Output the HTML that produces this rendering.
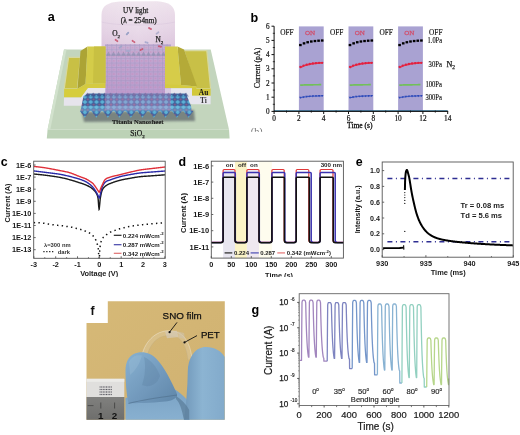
<!DOCTYPE html>
<html><head><meta charset="utf-8"><title>Figure</title>
<style>html,body{margin:0;padding:0;background:#fff;width:520px;height:435px;overflow:hidden}svg{display:block;filter:blur(0.35px)}</style>
</head><body>
<svg width="520" height="435" viewBox="0 0 520 435">
<rect x="0" y="0" width="520" height="435" fill="#fff"/>
<defs>
<linearGradient id="cylG" x1="0" y1="0" x2="0" y2="1">
 <stop offset="0" stop-color="#eee2ec"/><stop offset="0.5" stop-color="#e4d2e4"/><stop offset="1" stop-color="#d6bcd8"/>
</linearGradient>
<linearGradient id="cylH" x1="0" y1="0" x2="1" y2="0">
 <stop offset="0" stop-color="#ffffff" stop-opacity="0.0"/><stop offset="0.5" stop-color="#ffffff" stop-opacity="0.18"/><stop offset="1" stop-color="#ffffff" stop-opacity="0.0"/>
</linearGradient>
<linearGradient id="beamG" x1="0" y1="0" x2="0" y2="1">
 <stop offset="0" stop-color="#c8b4d6"/><stop offset="0.35" stop-color="#c0a6d2"/><stop offset="1" stop-color="#b89ccc"/>
</linearGradient>
<pattern id="latt" x="1" y="1" width="4.6" height="4.4" patternUnits="userSpaceOnUse">
 <rect width="4.6" height="4.4" fill="none"/>
 <path d="M0,0.5 L4.6,0.5 M0.5,0 L0.5,4.4" stroke="#9c90bc" stroke-width="0.7" opacity="0.8"/>
 <path d="M0,2.7 L4.6,2.7" stroke="#cc8cc0" stroke-width="0.5" opacity="0.6"/>
 <circle cx="2.6" cy="2.6" r="0.6" fill="#c86a9c" opacity="0.6"/>
</pattern>
<pattern id="nano" x="0.8" y="0.6" width="5.8" height="5.2" patternUnits="userSpaceOnUse">
 <rect width="5.8" height="5.2" fill="#44629c"/>
 <path d="M0.5,2.6 L2.9,0.4 L5.3,2.6 L2.9,4.8 Z" fill="#5ab2d6"/>
 <circle cx="0" cy="0" r="0.75" fill="#d0506e"/>
 <circle cx="5.8" cy="0" r="0.75" fill="#d0506e"/>
 <circle cx="0" cy="5.2" r="0.75" fill="#d0506e"/>
 <circle cx="5.8" cy="5.2" r="0.75" fill="#d0506e"/>
</pattern>
<filter id="blur1" x="-10%" y="-10%" width="120%" height="120%"><feGaussianBlur stdDeviation="0.45"/></filter>
<filter id="blur2" x="-20%" y="-50%" width="140%" height="200%"><feGaussianBlur stdDeviation="1.2"/></filter>
</defs>
<text x="47.80" y="21.20" font-family="'Liberation Sans', Arial, sans-serif" font-size="12.6" font-weight="bold" text-anchor="start" fill="#000" >a</text>
<g filter="url(#blur1)">
<polygon points="64.0,49.4 210.7,49.4 229.0,129.6 47.6,129.6" fill="#c3d5bd" />
<polygon points="47.6,129.6 229.0,129.6 229.6,138.6 46.8,138.6" fill="#bcd2b6" />
<polygon points="64.0,49.4 66.5,49.4 50.3,129.6 47.6,129.6" fill="#d2e2cd" />
<path d="M101.5,60 L101.5,15 C101.5,6 108,2.2 120,1.6 L157,1.2 C169,1.8 175,6 175,15 L175,60 Z" fill="url(#cylG)"/>
<path d="M101.5,60 L101.5,15 C101.5,6 108,2.2 120,1.6 L157,1.2 C169,1.8 175,6 175,15 L175,60 Z" fill="url(#cylH)"/>
<path d="M101.8,22 C115,26 160,26 174.8,22" fill="none" stroke="#d8c4dc" stroke-width="0.8" opacity="0.6"/>
<rect x="105" y="44" width="66" height="56" fill="url(#beamG)"/>
<rect x="105" y="44" width="66" height="56" fill="url(#latt)" opacity="0.75"/>
<polygon points="106.0,56.0 108.5,51.5 111.0,56.0" fill="#8088a8" opacity="0.55"/>
<polygon points="111.0,56.0 113.5,51.5 116.0,56.0" fill="#8088a8" opacity="0.55"/>
<polygon points="116.0,56.0 118.5,51.5 121.0,56.0" fill="#8088a8" opacity="0.55"/>
<polygon points="121.0,56.0 123.5,51.5 126.0,56.0" fill="#8088a8" opacity="0.55"/>
<polygon points="126.0,56.0 128.5,51.5 131.0,56.0" fill="#8088a8" opacity="0.55"/>
<polygon points="131.0,56.0 133.5,51.5 136.0,56.0" fill="#8088a8" opacity="0.55"/>
<polygon points="136.0,56.0 138.5,51.5 141.0,56.0" fill="#8088a8" opacity="0.55"/>
<polygon points="141.0,56.0 143.5,51.5 146.0,56.0" fill="#8088a8" opacity="0.55"/>
<polygon points="146.0,56.0 148.5,51.5 151.0,56.0" fill="#8088a8" opacity="0.55"/>
<polygon points="151.0,56.0 153.5,51.5 156.0,56.0" fill="#8088a8" opacity="0.55"/>
<polygon points="156.0,56.0 158.5,51.5 161.0,56.0" fill="#8088a8" opacity="0.55"/>
<polygon points="161.0,56.0 163.5,51.5 166.0,56.0" fill="#8088a8" opacity="0.55"/>
<polygon points="166.0,56.0 168.5,51.5 171.0,56.0" fill="#8088a8" opacity="0.55"/>
<polygon points="68.6,57.4 80.5,57.4 77.5,88.8 64.2,88.8" fill="#c8c044" stroke="#d6d8a0" stroke-width="1.2"/>
<polygon points="80.5,51.0 87.5,46.6 85.5,84.0 77.5,88.8" fill="#aca434" />
<polygon points="87.5,46.6 105.5,46.6 105.5,83.0 85.5,84.0" fill="#d4cc48" />
<polygon points="94.0,46.6 105.5,46.6 105.5,83.0 93.0,83.6" fill="#c8c042" />
<polygon points="77.5,88.8 85.5,84.0 105.5,83.0 105.5,88.0 88.0,88.0 81.0,97.6" fill="#d4ca40" />
<polygon points="64.2,88.8 77.5,88.8 88.0,88.0 81.0,97.6 64.0,97.6" fill="#d6cd3c" />
<polygon points="64.0,97.6 81.0,97.6 88.0,88.0 105.5,88.0 105.5,95.0 90.0,95.0 90.0,105.8 63.8,105.8" fill="#e6e4ec" />
<polygon points="184.0,50.6 206.8,50.6 210.6,88.6 196.0,88.6" fill="#c8c046" stroke="#d6d8a0" stroke-width="1.2"/>
<polygon points="177.5,46.4 184.0,49.6 197.0,86.5 181.0,85.0" fill="#b4aa38" />
<polygon points="165.0,46.4 177.5,46.4 181.0,85.0 165.0,85.0" fill="#d6cc4a" />
<polygon points="165.0,84.2 181.0,85.0 197.0,86.5 196.0,89.6 192.0,89.9 192.0,88.3 165.0,88.3" fill="#d4ca40" />
<polygon points="192.0,88.6 210.6,88.6 210.6,95.8 192.0,95.8" fill="#d2c83a" />
<polygon points="165.0,88.3 192.0,88.3 192.0,95.8 210.6,95.8 210.6,104.3 192.0,104.3 170.0,96.0 165.0,96.0" fill="#e6e5ee" />
</g>
<path d="M82,112 L194,110 L195,121 L84,122 Z" fill="#4a5058" opacity="0.6" filter="url(#blur2)"/>
<g filter="url(#blur1)">
<polygon points="80.5,111.0 83.5,96.0 88.0,93.6 186.0,93.4 191.0,106.0 191.5,110.5 193.4,111.0 188.4,117.8 183.4,111.0 181.9,111.0 176.9,117.8 171.9,111.0 170.4,111.0 165.4,117.8 160.4,111.0 158.8,111.0 153.8,117.8 148.8,111.0 147.3,111.0 142.3,117.8 137.3,111.0 135.8,111.0 130.8,117.8 125.8,111.0 124.3,111.0 119.3,117.8 114.3,111.0 112.8,111.0 107.8,117.8 102.8,111.0 101.3,111.0 96.3,117.8 91.3,111.0 89.8,111.0 84.8,117.8 79.8,111.0 80.5,111.0" fill="url(#nano)" />
<polygon points="84.5,96.5 87.4,92.6 90.3,96.5" fill="#3a548e" opacity="0.6"/>
<polygon points="90.3,96.5 93.2,92.6 96.1,96.5" fill="#3a548e" opacity="0.6"/>
<polygon points="96.1,96.5 99.0,92.6 101.9,96.5" fill="#3a548e" opacity="0.6"/>
<polygon points="101.9,96.5 104.8,92.6 107.7,96.5" fill="#3a548e" opacity="0.6"/>
<polygon points="107.7,96.5 110.6,92.6 113.5,96.5" fill="#3a548e" opacity="0.6"/>
<polygon points="113.5,96.5 116.4,92.6 119.3,96.5" fill="#3a548e" opacity="0.6"/>
<polygon points="119.3,96.5 122.2,92.6 125.1,96.5" fill="#3a548e" opacity="0.6"/>
<polygon points="125.1,96.5 128.0,92.6 130.9,96.5" fill="#3a548e" opacity="0.6"/>
<polygon points="130.9,96.5 133.8,92.6 136.7,96.5" fill="#3a548e" opacity="0.6"/>
<polygon points="136.7,96.5 139.6,92.6 142.5,96.5" fill="#3a548e" opacity="0.6"/>
<polygon points="142.5,96.5 145.4,92.6 148.3,96.5" fill="#3a548e" opacity="0.6"/>
<polygon points="148.3,96.5 151.2,92.6 154.1,96.5" fill="#3a548e" opacity="0.6"/>
<polygon points="154.1,96.5 157.0,92.6 159.9,96.5" fill="#3a548e" opacity="0.6"/>
<polygon points="159.9,96.5 162.8,92.6 165.7,96.5" fill="#3a548e" opacity="0.6"/>
<polygon points="165.7,96.5 168.6,92.6 171.5,96.5" fill="#3a548e" opacity="0.6"/>
<polygon points="171.5,96.5 174.4,92.6 177.3,96.5" fill="#3a548e" opacity="0.6"/>
<polygon points="177.3,96.5 180.2,92.6 183.1,96.5" fill="#3a548e" opacity="0.6"/>
<polygon points="183.1,96.5 186.0,92.6 188.9,96.5" fill="#3a548e" opacity="0.6"/>
<path d="M81,106 L191.5,106 L191.5,111.5 L81,111.5 Z" fill="#8fd0ec" opacity="0.35"/>
<path d="M105,88 L171,88 L171,110 L105,110 Z" fill="#c09ad0" opacity="0.38"/>
</g>
<g transform="rotate(40 116.5 40.5)" opacity="0.85"><ellipse cx="115.60" cy="40.5" rx="1.2" ry="1.0" fill="#c8506a"/><ellipse cx="117.40" cy="40.5" rx="1.2" ry="1.0" fill="#c8506a"/></g>
<g transform="rotate(-50 127.5 33.5)" opacity="0.85"><ellipse cx="126.60" cy="33.5" rx="1.2" ry="1.0" fill="#8c98c0"/><ellipse cx="128.40" cy="33.5" rx="1.2" ry="1.0" fill="#8c98c0"/></g>
<g transform="rotate(35 133.5 41.5)" opacity="0.85"><ellipse cx="132.60" cy="41.5" rx="1.2" ry="1.0" fill="#c8506a"/><ellipse cx="134.40" cy="41.5" rx="1.2" ry="1.0" fill="#c8506a"/></g>
<g transform="rotate(30 150.0 28.5)" opacity="0.85"><ellipse cx="149.10" cy="28.5" rx="1.2" ry="1.0" fill="#c8506a"/><ellipse cx="150.90" cy="28.5" rx="1.2" ry="1.0" fill="#c8506a"/></g>
<g transform="rotate(20 146.5 42.5)" opacity="0.85"><ellipse cx="145.60" cy="42.5" rx="1.2" ry="1.0" fill="#a0a4cc"/><ellipse cx="147.40" cy="42.5" rx="1.2" ry="1.0" fill="#a0a4cc"/></g>
<g transform="rotate(-40 157.5 33.0)" opacity="0.85"><ellipse cx="156.60" cy="33.0" rx="1.2" ry="1.0" fill="#a8a8c8"/><ellipse cx="158.40" cy="33.0" rx="1.2" ry="1.0" fill="#a8a8c8"/></g>
<g transform="rotate(-30 141.5 49.5)" opacity="0.85"><ellipse cx="140.60" cy="49.5" rx="1.2" ry="1.0" fill="#c8506a"/><ellipse cx="142.40" cy="49.5" rx="1.2" ry="1.0" fill="#c8506a"/></g>
<g transform="rotate(-40 120.5 47.0)" opacity="0.85"><ellipse cx="119.60" cy="47.0" rx="1.2" ry="1.0" fill="#9ca4c8"/><ellipse cx="121.40" cy="47.0" rx="1.2" ry="1.0" fill="#9ca4c8"/></g>
<g transform="rotate(10 160.0 46.5)" opacity="0.85"><ellipse cx="159.10" cy="46.5" rx="1.2" ry="1.0" fill="#c8506a"/><ellipse cx="160.90" cy="46.5" rx="1.2" ry="1.0" fill="#c8506a"/></g>
<g transform="rotate(0 128 51)" opacity="0.85"><ellipse cx="127.10" cy="51" rx="1.2" ry="1.0" fill="#a0a8cc"/><ellipse cx="128.90" cy="51" rx="1.2" ry="1.0" fill="#a0a8cc"/></g>
<text x="135.70" y="13.10" font-family="'Liberation Serif', 'Times New Roman', serif" font-size="7.2" font-weight="normal" text-anchor="middle" fill="#222" stroke="#222" stroke-width="0.25">UV light</text>
<text x="138.70" y="23.20" font-family="'Liberation Serif', 'Times New Roman', serif" font-size="7.2" font-weight="normal" text-anchor="middle" fill="#222" stroke="#222" stroke-width="0.25">(&#955; = 254nm)</text>
<text x="112.20" y="36.20" font-family="'Liberation Serif', 'Times New Roman', serif" font-size="7.4" font-weight="normal" text-anchor="start" fill="#222" stroke="#222" stroke-width="0.25">O<tspan font-size="5" dy="1.5">2</tspan></text>
<text x="155.40" y="42.40" font-family="'Liberation Serif', 'Times New Roman', serif" font-size="7.4" font-weight="normal" text-anchor="start" fill="#222" stroke="#222" stroke-width="0.25">N<tspan font-size="5" dy="1.5">2</tspan></text>
<text x="137.70" y="124.30" font-family="'Liberation Serif', 'Times New Roman', serif" font-size="6.6" font-weight="bold" text-anchor="middle" fill="#1a1a1a" stroke="#1a1a1a" stroke-width="0.15">Titania Nanosheet</text>
<text x="137.50" y="136.20" font-family="'Liberation Serif', 'Times New Roman', serif" font-size="7.6" font-weight="normal" text-anchor="middle" fill="#1a1a1a" stroke="#1a1a1a" stroke-width="0.25">SiO<tspan font-size="5" dy="1.4">2</tspan></text>
<text x="198.80" y="95.00" font-family="'Liberation Serif', 'Times New Roman', serif" font-size="7.4" font-weight="bold" text-anchor="start" fill="#111" >Au</text>
<text x="200.00" y="103.40" font-family="'Liberation Serif', 'Times New Roman', serif" font-size="7.4" font-weight="bold" text-anchor="start" fill="#3a3a3a" >Ti</text>
<text x="250.60" y="21.60" font-family="'Liberation Sans', Arial, sans-serif" font-size="12.6" font-weight="bold" text-anchor="start" fill="#000" >b</text>
<rect x="298.90" y="26.40" width="24.80" height="85.00" fill="#a9a2d2" stroke="none" stroke-width="1" />
<rect x="348.50" y="26.40" width="24.80" height="85.00" fill="#a9a2d2" stroke="none" stroke-width="1" />
<rect x="398.10" y="26.40" width="24.80" height="85.00" fill="#a9a2d2" stroke="none" stroke-width="1" />
<text x="287.00" y="34.90" font-family="'Liberation Serif', 'Times New Roman', serif" font-size="7.3" font-weight="normal" text-anchor="middle" fill="#111" stroke="#111" stroke-width="0.15">OFF</text>
<text x="336.60" y="34.90" font-family="'Liberation Serif', 'Times New Roman', serif" font-size="7.3" font-weight="normal" text-anchor="middle" fill="#111" stroke="#111" stroke-width="0.15">OFF</text>
<text x="386.20" y="34.90" font-family="'Liberation Serif', 'Times New Roman', serif" font-size="7.3" font-weight="normal" text-anchor="middle" fill="#111" stroke="#111" stroke-width="0.15">OFF</text>
<text x="435.80" y="34.90" font-family="'Liberation Serif', 'Times New Roman', serif" font-size="7.3" font-weight="normal" text-anchor="middle" fill="#111" stroke="#111" stroke-width="0.15">OFF</text>
<text x="310.10" y="34.60" font-family="'Liberation Serif', 'Times New Roman', serif" font-size="7.0" font-weight="normal" text-anchor="middle" fill="#d0506e" stroke="#d0506e" stroke-width="0.3">ON</text>
<text x="359.70" y="34.60" font-family="'Liberation Serif', 'Times New Roman', serif" font-size="7.0" font-weight="normal" text-anchor="middle" fill="#d0506e" stroke="#d0506e" stroke-width="0.3">ON</text>
<text x="409.30" y="34.60" font-family="'Liberation Serif', 'Times New Roman', serif" font-size="7.0" font-weight="normal" text-anchor="middle" fill="#d0506e" stroke="#d0506e" stroke-width="0.3">ON</text>
<rect x="299.09" y="43.89" width="2.60" height="2.30" fill="#000" stroke="none" stroke-width="1" />
<rect x="302.73" y="42.20" width="2.60" height="2.30" fill="#000" stroke="none" stroke-width="1" />
<rect x="306.36" y="41.09" width="2.60" height="2.30" fill="#000" stroke="none" stroke-width="1" />
<rect x="310.00" y="40.36" width="2.60" height="2.30" fill="#000" stroke="none" stroke-width="1" />
<rect x="313.64" y="39.88" width="2.60" height="2.30" fill="#000" stroke="none" stroke-width="1" />
<rect x="317.27" y="39.56" width="2.60" height="2.30" fill="#000" stroke="none" stroke-width="1" />
<rect x="320.91" y="39.36" width="2.60" height="2.30" fill="#000" stroke="none" stroke-width="1" />
<rect x="348.69" y="43.89" width="2.60" height="2.30" fill="#000" stroke="none" stroke-width="1" />
<rect x="352.33" y="42.20" width="2.60" height="2.30" fill="#000" stroke="none" stroke-width="1" />
<rect x="355.96" y="41.09" width="2.60" height="2.30" fill="#000" stroke="none" stroke-width="1" />
<rect x="359.60" y="40.36" width="2.60" height="2.30" fill="#000" stroke="none" stroke-width="1" />
<rect x="363.24" y="39.88" width="2.60" height="2.30" fill="#000" stroke="none" stroke-width="1" />
<rect x="366.87" y="39.56" width="2.60" height="2.30" fill="#000" stroke="none" stroke-width="1" />
<rect x="370.51" y="39.36" width="2.60" height="2.30" fill="#000" stroke="none" stroke-width="1" />
<rect x="398.29" y="43.89" width="2.60" height="2.30" fill="#000" stroke="none" stroke-width="1" />
<rect x="401.93" y="42.20" width="2.60" height="2.30" fill="#000" stroke="none" stroke-width="1" />
<rect x="405.56" y="41.09" width="2.60" height="2.30" fill="#000" stroke="none" stroke-width="1" />
<rect x="409.20" y="40.36" width="2.60" height="2.30" fill="#000" stroke="none" stroke-width="1" />
<rect x="412.84" y="39.88" width="2.60" height="2.30" fill="#000" stroke="none" stroke-width="1" />
<rect x="416.47" y="39.56" width="2.60" height="2.30" fill="#000" stroke="none" stroke-width="1" />
<rect x="420.11" y="39.36" width="2.60" height="2.30" fill="#000" stroke="none" stroke-width="1" />
<path d="M300.14,67.66 L301.26,67.03 L302.37,66.48 L303.49,65.99 L304.60,65.56 L305.72,65.19 L306.84,64.85 L307.95,64.56 L309.07,64.31 L310.18,64.08 L311.30,63.88 L312.42,63.71 L313.53,63.55 L314.65,63.42 L315.76,63.30 L316.88,63.20 L318.00,63.10 L319.11,63.02 L320.23,62.95 L321.34,62.89 L322.46,62.84" stroke="#e8304a" stroke-width="1.7" fill="none" />
<path d="M349.74,67.66 L350.86,67.03 L351.97,66.48 L353.09,65.99 L354.20,65.56 L355.32,65.19 L356.44,64.85 L357.55,64.56 L358.67,64.31 L359.78,64.08 L360.90,63.88 L362.02,63.71 L363.13,63.55 L364.25,63.42 L365.36,63.30 L366.48,63.20 L367.60,63.10 L368.71,63.02 L369.83,62.95 L370.94,62.89 L372.06,62.84" stroke="#e8304a" stroke-width="1.7" fill="none" />
<path d="M399.34,67.66 L400.46,67.03 L401.57,66.48 L402.69,65.99 L403.80,65.56 L404.92,65.19 L406.04,64.85 L407.15,64.56 L408.27,64.31 L409.38,64.08 L410.50,63.88 L411.62,63.71 L412.73,63.55 L413.85,63.42 L414.96,63.30 L416.08,63.20 L417.20,63.10 L418.31,63.02 L419.43,62.95 L420.54,62.89 L421.66,62.84" stroke="#e8304a" stroke-width="1.7" fill="none" />
<circle cx="300.39" cy="66.97" r="1.15" fill="#e02040"/>
<circle cx="303.51" cy="65.60" r="1.15" fill="#e02040"/>
<circle cx="306.62" cy="64.65" r="1.15" fill="#e02040"/>
<circle cx="309.74" cy="63.98" r="1.15" fill="#e02040"/>
<circle cx="312.86" cy="63.51" r="1.15" fill="#e02040"/>
<circle cx="315.98" cy="63.19" r="1.15" fill="#e02040"/>
<circle cx="319.09" cy="62.96" r="1.15" fill="#e02040"/>
<circle cx="322.21" cy="62.80" r="1.15" fill="#e02040"/>
<circle cx="349.99" cy="66.97" r="1.15" fill="#e02040"/>
<circle cx="353.11" cy="65.60" r="1.15" fill="#e02040"/>
<circle cx="356.22" cy="64.65" r="1.15" fill="#e02040"/>
<circle cx="359.34" cy="63.98" r="1.15" fill="#e02040"/>
<circle cx="362.46" cy="63.51" r="1.15" fill="#e02040"/>
<circle cx="365.58" cy="63.19" r="1.15" fill="#e02040"/>
<circle cx="368.69" cy="62.96" r="1.15" fill="#e02040"/>
<circle cx="371.81" cy="62.80" r="1.15" fill="#e02040"/>
<circle cx="399.59" cy="66.97" r="1.15" fill="#e02040"/>
<circle cx="402.71" cy="65.60" r="1.15" fill="#e02040"/>
<circle cx="405.82" cy="64.65" r="1.15" fill="#e02040"/>
<circle cx="408.94" cy="63.98" r="1.15" fill="#e02040"/>
<circle cx="412.06" cy="63.51" r="1.15" fill="#e02040"/>
<circle cx="415.18" cy="63.19" r="1.15" fill="#e02040"/>
<circle cx="418.29" cy="62.96" r="1.15" fill="#e02040"/>
<circle cx="421.41" cy="62.80" r="1.15" fill="#e02040"/>
<path d="M300.14,85.13 L301.19,85.08 L302.25,85.03 L303.30,84.99 L304.36,84.95 L305.41,84.92 L306.46,84.89 L307.52,84.87 L308.57,84.84 L309.63,84.82 L310.68,84.81 L311.73,84.79 L312.79,84.78 L313.84,84.76 L314.90,84.75 L315.95,84.74 L317.00,84.73 L318.06,84.73 L319.11,84.72 L320.17,84.71 L321.22,84.71" stroke="#72c05a" stroke-width="1.7" fill="none" />
<path d="M349.74,85.13 L350.79,85.08 L351.85,85.03 L352.90,84.99 L353.96,84.95 L355.01,84.92 L356.06,84.89 L357.12,84.87 L358.17,84.84 L359.23,84.82 L360.28,84.81 L361.33,84.79 L362.39,84.78 L363.44,84.76 L364.50,84.75 L365.55,84.74 L366.60,84.73 L367.66,84.73 L368.71,84.72 L369.77,84.71 L370.82,84.71" stroke="#72c05a" stroke-width="1.7" fill="none" />
<path d="M399.34,85.13 L400.39,85.08 L401.45,85.03 L402.50,84.99 L403.56,84.95 L404.61,84.92 L405.66,84.89 L406.72,84.87 L407.77,84.84 L408.83,84.82 L409.88,84.81 L410.93,84.79 L411.99,84.78 L413.04,84.76 L414.10,84.75 L415.15,84.74 L416.20,84.73 L417.26,84.73 L418.31,84.72 L419.37,84.71 L420.42,84.71" stroke="#72c05a" stroke-width="1.7" fill="none" />
<path d="M300.14,97.91 L301.26,97.65 L302.37,97.42 L303.49,97.22 L304.60,97.04 L305.72,96.89 L306.84,96.75 L307.95,96.63 L309.07,96.53 L310.18,96.43 L311.30,96.35 L312.42,96.28 L313.53,96.22 L314.65,96.16 L315.76,96.11 L316.88,96.07 L318.00,96.03 L319.11,96.00 L320.23,95.97 L321.34,95.94 L322.46,95.92" stroke="#3050c0" stroke-width="1.0" fill="none" />
<path d="M349.74,97.91 L350.86,97.65 L351.97,97.42 L353.09,97.22 L354.20,97.04 L355.32,96.89 L356.44,96.75 L357.55,96.63 L358.67,96.53 L359.78,96.43 L360.90,96.35 L362.02,96.28 L363.13,96.22 L364.25,96.16 L365.36,96.11 L366.48,96.07 L367.60,96.03 L368.71,96.00 L369.83,95.97 L370.94,95.94 L372.06,95.92" stroke="#3050c0" stroke-width="1.0" fill="none" />
<path d="M399.34,97.91 L400.46,97.65 L401.57,97.42 L402.69,97.22 L403.80,97.04 L404.92,96.89 L406.04,96.75 L407.15,96.63 L408.27,96.53 L409.38,96.43 L410.50,96.35 L411.62,96.28 L412.73,96.22 L413.85,96.16 L414.96,96.11 L416.08,96.07 L417.20,96.03 L418.31,96.00 L419.43,95.97 L420.54,95.94 L421.66,95.92" stroke="#3050c0" stroke-width="1.0" fill="none" />
<polygon points="299.09,96.72 301.69,96.72 300.39,98.82" fill="#2c48b8"/>
<polygon points="302.21,96.16 304.81,96.16 303.51,98.26" fill="#2c48b8"/>
<polygon points="305.32,95.77 307.92,95.77 306.62,97.87" fill="#2c48b8"/>
<polygon points="308.44,95.49 311.04,95.49 309.74,97.59" fill="#2c48b8"/>
<polygon points="311.56,95.30 314.16,95.30 312.86,97.40" fill="#2c48b8"/>
<polygon points="314.68,95.17 317.28,95.17 315.98,97.27" fill="#2c48b8"/>
<polygon points="317.79,95.07 320.39,95.07 319.09,97.17" fill="#2c48b8"/>
<polygon points="320.91,95.01 323.51,95.01 322.21,97.11" fill="#2c48b8"/>
<polygon points="348.69,96.72 351.29,96.72 349.99,98.82" fill="#2c48b8"/>
<polygon points="351.81,96.16 354.41,96.16 353.11,98.26" fill="#2c48b8"/>
<polygon points="354.92,95.77 357.52,95.77 356.22,97.87" fill="#2c48b8"/>
<polygon points="358.04,95.49 360.64,95.49 359.34,97.59" fill="#2c48b8"/>
<polygon points="361.16,95.30 363.76,95.30 362.46,97.40" fill="#2c48b8"/>
<polygon points="364.28,95.17 366.88,95.17 365.58,97.27" fill="#2c48b8"/>
<polygon points="367.39,95.07 369.99,95.07 368.69,97.17" fill="#2c48b8"/>
<polygon points="370.51,95.01 373.11,95.01 371.81,97.11" fill="#2c48b8"/>
<polygon points="398.29,96.72 400.89,96.72 399.59,98.82" fill="#2c48b8"/>
<polygon points="401.41,96.16 404.01,96.16 402.71,98.26" fill="#2c48b8"/>
<polygon points="404.52,95.77 407.12,95.77 405.82,97.87" fill="#2c48b8"/>
<polygon points="407.64,95.49 410.24,95.49 408.94,97.59" fill="#2c48b8"/>
<polygon points="410.76,95.30 413.36,95.30 412.06,97.40" fill="#2c48b8"/>
<polygon points="413.88,95.17 416.48,95.17 415.18,97.27" fill="#2c48b8"/>
<polygon points="416.99,95.07 419.59,95.07 418.29,97.17" fill="#2c48b8"/>
<polygon points="420.11,95.01 422.71,95.01 421.41,97.11" fill="#2c48b8"/>
<path d="M274.10,110.80 L447.70,110.80" stroke="#2a6a8a" stroke-width="1.2" fill="none" />
<line x1="274.10" y1="26.20" x2="274.10" y2="111.90" stroke="#111" stroke-width="1" />
<line x1="273.60" y1="111.40" x2="448.20" y2="111.40" stroke="#111" stroke-width="1" />
<line x1="271.50" y1="111.40" x2="274.10" y2="111.40" stroke="#111" stroke-width="1" />
<line x1="272.80" y1="104.30" x2="274.90" y2="104.30" stroke="#111" stroke-width="0.8" />
<text x="269.50" y="113.90" font-family="'Liberation Serif', 'Times New Roman', serif" font-size="7.2" font-weight="normal" text-anchor="end" fill="#111" stroke="#111" stroke-width="0.2">0</text>
<line x1="271.50" y1="97.20" x2="274.10" y2="97.20" stroke="#111" stroke-width="1" />
<line x1="272.80" y1="90.10" x2="274.90" y2="90.10" stroke="#111" stroke-width="0.8" />
<text x="269.50" y="99.70" font-family="'Liberation Serif', 'Times New Roman', serif" font-size="7.2" font-weight="normal" text-anchor="end" fill="#111" stroke="#111" stroke-width="0.2">1</text>
<line x1="271.50" y1="83.00" x2="274.10" y2="83.00" stroke="#111" stroke-width="1" />
<line x1="272.80" y1="75.90" x2="274.90" y2="75.90" stroke="#111" stroke-width="0.8" />
<text x="269.50" y="85.50" font-family="'Liberation Serif', 'Times New Roman', serif" font-size="7.2" font-weight="normal" text-anchor="end" fill="#111" stroke="#111" stroke-width="0.2">2</text>
<line x1="271.50" y1="68.80" x2="274.10" y2="68.80" stroke="#111" stroke-width="1" />
<line x1="272.80" y1="61.70" x2="274.90" y2="61.70" stroke="#111" stroke-width="0.8" />
<text x="269.50" y="71.30" font-family="'Liberation Serif', 'Times New Roman', serif" font-size="7.2" font-weight="normal" text-anchor="end" fill="#111" stroke="#111" stroke-width="0.2">3</text>
<line x1="271.50" y1="54.60" x2="274.10" y2="54.60" stroke="#111" stroke-width="1" />
<line x1="272.80" y1="47.50" x2="274.90" y2="47.50" stroke="#111" stroke-width="0.8" />
<text x="269.50" y="57.10" font-family="'Liberation Serif', 'Times New Roman', serif" font-size="7.2" font-weight="normal" text-anchor="end" fill="#111" stroke="#111" stroke-width="0.2">4</text>
<line x1="271.50" y1="40.40" x2="274.10" y2="40.40" stroke="#111" stroke-width="1" />
<line x1="272.80" y1="33.30" x2="274.90" y2="33.30" stroke="#111" stroke-width="0.8" />
<text x="269.50" y="42.90" font-family="'Liberation Serif', 'Times New Roman', serif" font-size="7.2" font-weight="normal" text-anchor="end" fill="#111" stroke="#111" stroke-width="0.2">5</text>
<line x1="271.50" y1="26.20" x2="274.10" y2="26.20" stroke="#111" stroke-width="1" />
<text x="269.50" y="28.70" font-family="'Liberation Serif', 'Times New Roman', serif" font-size="7.2" font-weight="normal" text-anchor="end" fill="#111" stroke="#111" stroke-width="0.2">6</text>
<line x1="274.10" y1="111.40" x2="274.10" y2="114.00" stroke="#111" stroke-width="1" />
<line x1="286.50" y1="110.60" x2="286.50" y2="112.70" stroke="#111" stroke-width="0.8" />
<text x="274.10" y="120.60" font-family="'Liberation Serif', 'Times New Roman', serif" font-size="7.3" font-weight="normal" text-anchor="middle" fill="#111" stroke="#111" stroke-width="0.2">0</text>
<line x1="298.90" y1="111.40" x2="298.90" y2="114.00" stroke="#111" stroke-width="1" />
<line x1="311.30" y1="110.60" x2="311.30" y2="112.70" stroke="#111" stroke-width="0.8" />
<text x="298.90" y="120.60" font-family="'Liberation Serif', 'Times New Roman', serif" font-size="7.3" font-weight="normal" text-anchor="middle" fill="#111" stroke="#111" stroke-width="0.2">2</text>
<line x1="323.70" y1="111.40" x2="323.70" y2="114.00" stroke="#111" stroke-width="1" />
<line x1="336.10" y1="110.60" x2="336.10" y2="112.70" stroke="#111" stroke-width="0.8" />
<text x="323.70" y="120.60" font-family="'Liberation Serif', 'Times New Roman', serif" font-size="7.3" font-weight="normal" text-anchor="middle" fill="#111" stroke="#111" stroke-width="0.2">4</text>
<line x1="348.50" y1="111.40" x2="348.50" y2="114.00" stroke="#111" stroke-width="1" />
<line x1="360.90" y1="110.60" x2="360.90" y2="112.70" stroke="#111" stroke-width="0.8" />
<text x="348.50" y="120.60" font-family="'Liberation Serif', 'Times New Roman', serif" font-size="7.3" font-weight="normal" text-anchor="middle" fill="#111" stroke="#111" stroke-width="0.2">6</text>
<line x1="373.30" y1="111.40" x2="373.30" y2="114.00" stroke="#111" stroke-width="1" />
<line x1="385.70" y1="110.60" x2="385.70" y2="112.70" stroke="#111" stroke-width="0.8" />
<text x="373.30" y="120.60" font-family="'Liberation Serif', 'Times New Roman', serif" font-size="7.3" font-weight="normal" text-anchor="middle" fill="#111" stroke="#111" stroke-width="0.2">8</text>
<line x1="398.10" y1="111.40" x2="398.10" y2="114.00" stroke="#111" stroke-width="1" />
<line x1="410.50" y1="110.60" x2="410.50" y2="112.70" stroke="#111" stroke-width="0.8" />
<text x="398.10" y="120.60" font-family="'Liberation Serif', 'Times New Roman', serif" font-size="7.3" font-weight="normal" text-anchor="middle" fill="#111" stroke="#111" stroke-width="0.2">10</text>
<line x1="422.90" y1="111.40" x2="422.90" y2="114.00" stroke="#111" stroke-width="1" />
<line x1="435.30" y1="110.60" x2="435.30" y2="112.70" stroke="#111" stroke-width="0.8" />
<text x="422.90" y="120.60" font-family="'Liberation Serif', 'Times New Roman', serif" font-size="7.3" font-weight="normal" text-anchor="middle" fill="#111" stroke="#111" stroke-width="0.2">12</text>
<line x1="447.70" y1="111.40" x2="447.70" y2="114.00" stroke="#111" stroke-width="1" />
<text x="447.70" y="120.60" font-family="'Liberation Serif', 'Times New Roman', serif" font-size="7.3" font-weight="normal" text-anchor="middle" fill="#111" stroke="#111" stroke-width="0.2">14</text>
<text x="359.80" y="128.40" font-family="'Liberation Serif', 'Times New Roman', serif" font-size="7.5" font-weight="normal" text-anchor="middle" fill="#111" stroke="#111" stroke-width="0.3">Time (s)</text>
<text x="260.20" y="68.00" font-family="'Liberation Serif', 'Times New Roman', serif" font-size="7.8" font-weight="normal" text-anchor="middle" fill="#111" stroke="#111" stroke-width="0.2" transform="rotate(-90 260.2 68)">Current (pA)</text>
<text x="427.60" y="42.70" font-family="'Liberation Serif', 'Times New Roman', serif" font-size="7.7" font-weight="normal" text-anchor="start" fill="#111" stroke="#111" stroke-width="0.15" textLength="14.4" lengthAdjust="spacingAndGlyphs">1.0Pa</text>
<text x="428.60" y="67.20" font-family="'Liberation Serif', 'Times New Roman', serif" font-size="7.7" font-weight="normal" text-anchor="start" fill="#111" stroke="#111" stroke-width="0.15" textLength="13.4" lengthAdjust="spacingAndGlyphs">30Pa</text>
<text x="446.50" y="67.00" font-family="'Liberation Serif', 'Times New Roman', serif" font-size="8.0" font-weight="normal" text-anchor="start" fill="#111" stroke="#111" stroke-width="0.25">N<tspan font-size="5.4" dy="1.6">2</tspan></text>
<text x="425.40" y="86.80" font-family="'Liberation Serif', 'Times New Roman', serif" font-size="7.7" font-weight="normal" text-anchor="start" fill="#111" stroke="#111" stroke-width="0.15" textLength="16.6" lengthAdjust="spacingAndGlyphs">100Pa</text>
<text x="425.40" y="99.60" font-family="'Liberation Serif', 'Times New Roman', serif" font-size="7.7" font-weight="normal" text-anchor="start" fill="#111" stroke="#111" stroke-width="0.15" textLength="16.6" lengthAdjust="spacingAndGlyphs">300Pa</text>
<clipPath id="clipbf"><rect x="248" y="127.5" width="20" height="4.3"/></clipPath>
<text x="250.80" y="135.40" font-family="'Liberation Serif', 'Times New Roman', serif" font-size="10" font-weight="normal" text-anchor="start" fill="#444" clip-path="url(#clipbf)" opacity="0.8">(b)</text>
<text x="0.80" y="166.40" font-family="'Liberation Sans', Arial, sans-serif" font-size="12.4" font-weight="bold" text-anchor="start" fill="#000" >c</text>
<g clip-path="url(#clipc)">
<path d="M33.70,174.00 L34.20,174.05 L34.70,174.10 L35.20,174.16 L35.70,174.21 L36.20,174.26 L36.70,174.31 L37.20,174.35 L37.70,174.40 L38.20,174.45 L38.70,174.50 L39.20,174.55 L39.70,174.60 L40.20,174.65 L40.70,174.71 L41.20,174.76 L41.70,174.81 L42.20,174.87 L42.70,174.92 L43.20,174.98 L43.70,175.04 L44.20,175.10 L44.70,175.16 L45.00,175.20 L45.20,175.23 L45.70,175.29 L46.20,175.36 L46.70,175.42 L47.20,175.48 L47.70,175.55 L48.20,175.61 L48.70,175.68 L49.20,175.75 L49.70,175.81 L50.20,175.88 L50.70,175.95 L51.20,176.02 L51.70,176.09 L52.20,176.16 L52.70,176.23 L53.20,176.30 L53.70,176.37 L54.20,176.44 L54.70,176.52 L55.20,176.59 L55.70,176.67 L56.20,176.75 L56.70,176.83 L57.20,176.91 L57.70,177.00 L58.20,177.08 L58.70,177.17 L59.20,177.26 L59.70,177.35 L60.00,177.40 L60.20,177.44 L60.70,177.53 L61.20,177.63 L61.70,177.73 L62.20,177.84 L62.70,177.95 L63.20,178.06 L63.70,178.18 L64.20,178.29 L64.70,178.41 L65.20,178.54 L65.70,178.66 L66.20,178.79 L66.70,178.92 L67.20,179.05 L67.70,179.18 L68.20,179.31 L68.70,179.45 L69.20,179.58 L69.70,179.72 L70.00,179.80 L70.20,179.86 L70.70,180.00 L71.20,180.14 L71.70,180.28 L72.20,180.43 L72.70,180.58 L73.20,180.73 L73.70,180.88 L74.20,181.04 L74.70,181.19 L75.20,181.35 L75.70,181.51 L76.20,181.67 L76.70,181.83 L77.20,181.99 L77.70,182.15 L78.20,182.31 L78.70,182.48 L79.20,182.64 L79.70,182.80 L80.00,182.90 L80.20,182.96 L80.70,183.13 L81.20,183.29 L81.70,183.45 L82.20,183.62 L82.70,183.78 L83.20,183.95 L83.70,184.13 L84.20,184.31 L84.70,184.49 L85.20,184.68 L85.70,184.88 L86.00,185.00 L86.20,185.08 L86.70,185.30 L87.20,185.52 L87.70,185.75 L88.20,186.00 L88.70,186.26 L89.20,186.53 L89.70,186.82 L90.00,187.00 L90.20,187.12 L90.70,187.45 L91.20,187.80 L91.70,188.18 L92.20,188.58 L92.70,189.02 L93.00,189.30 L93.20,189.49 L93.70,189.94 L94.20,190.41 L94.70,190.91 L95.20,191.50 L95.70,192.21 L96.00,192.70 L96.20,193.03 L96.70,193.86 L97.20,194.93 L97.70,196.58 L98.00,198.00 L98.20,199.69 L98.70,206.33 L99.10,209.30 L99.20,209.15 L99.70,204.46 L100.20,199.00 L100.70,196.02 L101.20,193.54 L101.70,191.59 L102.00,190.70 L102.20,190.20 L102.70,189.16 L103.20,188.35 L103.70,187.72 L104.20,187.21 L104.70,186.76 L105.00,186.50 L105.20,186.33 L105.70,185.92 L106.20,185.55 L106.70,185.22 L107.20,184.92 L107.70,184.65 L108.20,184.39 L108.70,184.16 L109.20,183.94 L109.70,183.72 L110.00,183.60 L110.20,183.52 L110.70,183.32 L111.20,183.12 L111.70,182.93 L112.20,182.74 L112.70,182.55 L113.20,182.38 L113.70,182.20 L114.20,182.03 L114.70,181.86 L115.20,181.70 L115.70,181.54 L116.20,181.38 L116.70,181.23 L117.20,181.08 L117.70,180.94 L118.20,180.79 L118.70,180.65 L119.20,180.52 L119.70,180.38 L120.00,180.30 L120.20,180.25 L120.70,180.12 L121.20,180.00 L121.70,179.88 L122.20,179.77 L122.70,179.66 L123.20,179.55 L123.70,179.45 L124.20,179.35 L124.70,179.25 L125.20,179.16 L125.70,179.06 L126.20,178.97 L126.70,178.88 L127.20,178.79 L127.70,178.71 L128.20,178.62 L128.70,178.53 L129.20,178.44 L129.70,178.35 L130.00,178.30 L130.20,178.26 L130.70,178.17 L131.20,178.08 L131.70,177.99 L132.20,177.90 L132.70,177.81 L133.20,177.73 L133.70,177.64 L134.20,177.55 L134.70,177.47 L135.20,177.38 L135.70,177.30 L136.20,177.22 L136.70,177.14 L137.20,177.07 L137.70,177.00 L138.20,176.93 L138.70,176.86 L139.20,176.80 L139.70,176.73 L140.00,176.70 L140.20,176.68 L140.70,176.62 L141.20,176.57 L141.70,176.52 L142.20,176.48 L142.70,176.44 L143.20,176.39 L143.70,176.35 L144.20,176.32 L144.70,176.28 L145.20,176.25 L145.70,176.21 L146.20,176.18 L146.70,176.15 L147.20,176.12 L147.70,176.09 L148.20,176.05 L148.70,176.02 L149.20,175.99 L149.70,175.96 L150.20,175.93 L150.70,175.89 L151.20,175.86 L151.70,175.82 L152.00,175.80 L152.20,175.78 L152.70,175.75 L153.20,175.71 L153.70,175.67 L154.20,175.63 L154.70,175.60 L155.20,175.56 L155.70,175.52 L156.20,175.48 L156.70,175.44 L157.20,175.41 L157.70,175.37 L158.20,175.33 L158.70,175.29 L159.20,175.26 L159.70,175.22 L160.20,175.18 L160.70,175.14 L161.20,175.10 L161.70,175.07 L162.20,175.03 L162.70,174.99 L163.20,174.95 L163.70,174.91 L164.20,174.88 L164.70,174.84 L165.20,174.80" stroke="#1a1a1a" stroke-width="1.4" fill="none" />
<path d="M33.70,170.90 L34.20,170.96 L34.70,171.02 L35.20,171.08 L35.70,171.15 L36.20,171.21 L36.70,171.27 L37.20,171.33 L37.70,171.39 L38.20,171.45 L38.70,171.51 L39.20,171.57 L39.70,171.64 L40.20,171.70 L40.70,171.76 L41.20,171.82 L41.70,171.88 L42.20,171.94 L42.70,172.01 L43.20,172.07 L43.70,172.13 L44.20,172.20 L44.70,172.26 L45.00,172.30 L45.20,172.33 L45.70,172.39 L46.20,172.45 L46.70,172.52 L47.20,172.58 L47.70,172.64 L48.20,172.70 L48.70,172.76 L49.20,172.82 L49.70,172.88 L50.20,172.94 L50.70,173.00 L51.20,173.07 L51.70,173.13 L52.20,173.19 L52.70,173.25 L53.20,173.32 L53.70,173.38 L54.20,173.45 L54.70,173.51 L55.20,173.58 L55.70,173.65 L56.20,173.72 L56.70,173.79 L57.20,173.86 L57.70,173.93 L58.20,174.01 L58.70,174.09 L59.20,174.17 L59.70,174.25 L60.00,174.30 L60.20,174.33 L60.70,174.42 L61.20,174.51 L61.70,174.61 L62.20,174.70 L62.70,174.80 L63.20,174.91 L63.70,175.01 L64.20,175.12 L64.70,175.23 L65.20,175.34 L65.70,175.46 L66.20,175.57 L66.70,175.69 L67.20,175.81 L67.70,175.93 L68.20,176.05 L68.70,176.18 L69.20,176.30 L69.70,176.43 L70.00,176.50 L70.20,176.55 L70.70,176.68 L71.20,176.80 L71.70,176.93 L72.20,177.06 L72.70,177.19 L73.20,177.32 L73.70,177.45 L74.20,177.58 L74.70,177.72 L75.20,177.85 L75.70,177.99 L76.20,178.13 L76.70,178.28 L77.20,178.42 L77.70,178.57 L78.20,178.73 L78.70,178.88 L79.20,179.04 L79.70,179.20 L80.00,179.30 L80.20,179.37 L80.70,179.54 L81.20,179.71 L81.70,179.90 L82.20,180.09 L82.70,180.29 L83.20,180.49 L83.70,180.70 L84.20,180.93 L84.70,181.16 L85.20,181.40 L85.70,181.65 L86.00,181.80 L86.20,181.91 L86.70,182.19 L87.20,182.49 L87.70,182.81 L88.20,183.15 L88.70,183.50 L89.20,183.88 L89.70,184.26 L90.00,184.50 L90.20,184.66 L90.70,185.08 L91.20,185.52 L91.70,185.99 L92.20,186.50 L92.70,187.05 L93.00,187.40 L93.20,187.64 L93.70,188.28 L94.20,188.96 L94.70,189.68 L95.20,190.44 L95.70,191.22 L96.00,191.70 L96.20,192.03 L96.70,192.92 L97.20,193.86 L97.70,194.84 L98.20,195.81 L98.30,196.00 L98.70,197.07 L99.20,198.04 L99.30,198.00 L99.70,197.00 L100.20,194.84 L100.40,194.00 L100.70,192.76 L101.20,190.53 L101.70,188.51 L102.00,187.60 L102.20,187.11 L102.70,185.96 L103.20,184.95 L103.70,184.07 L104.20,183.33 L104.70,182.71 L105.00,182.40 L105.20,182.22 L105.70,181.81 L106.20,181.48 L106.70,181.20 L107.20,180.97 L107.70,180.77 L108.20,180.60 L108.70,180.44 L109.20,180.28 L109.70,180.11 L110.00,180.00 L110.20,179.92 L110.70,179.74 L111.20,179.55 L111.70,179.37 L112.20,179.18 L112.70,179.01 L113.20,178.83 L113.70,178.65 L114.20,178.48 L114.70,178.31 L115.20,178.15 L115.70,177.98 L116.20,177.82 L116.70,177.66 L117.20,177.51 L117.70,177.36 L118.20,177.21 L118.70,177.06 L119.20,176.92 L119.70,176.78 L120.00,176.70 L120.20,176.65 L120.70,176.52 L121.20,176.39 L121.70,176.27 L122.20,176.15 L122.70,176.03 L123.20,175.92 L123.70,175.81 L124.20,175.71 L124.70,175.60 L125.20,175.50 L125.70,175.40 L126.20,175.31 L126.70,175.21 L127.20,175.12 L127.70,175.02 L128.20,174.93 L128.70,174.84 L129.20,174.75 L129.70,174.66 L130.00,174.60 L130.20,174.56 L130.70,174.47 L131.20,174.38 L131.70,174.29 L132.20,174.20 L132.70,174.11 L133.20,174.02 L133.70,173.94 L134.20,173.85 L134.70,173.77 L135.20,173.68 L135.70,173.60 L136.20,173.52 L136.70,173.45 L137.20,173.37 L137.70,173.30 L138.20,173.23 L138.70,173.16 L139.20,173.10 L139.70,173.04 L140.00,173.00 L140.20,172.98 L140.70,172.92 L141.20,172.87 L141.70,172.81 L142.20,172.76 L142.70,172.72 L143.20,172.67 L143.70,172.63 L144.20,172.58 L144.70,172.54 L145.20,172.50 L145.70,172.46 L146.20,172.43 L146.70,172.39 L147.20,172.35 L147.70,172.32 L148.20,172.28 L148.70,172.25 L149.20,172.21 L149.70,172.17 L150.20,172.14 L150.70,172.10 L151.20,172.06 L151.70,172.02 L152.00,172.00 L152.20,171.98 L152.70,171.94 L153.20,171.91 L153.70,171.87 L154.20,171.83 L154.70,171.79 L155.20,171.75 L155.70,171.71 L156.20,171.67 L156.70,171.64 L157.20,171.60 L157.70,171.56 L158.20,171.52 L158.70,171.49 L159.20,171.45 L159.70,171.41 L160.20,171.37 L160.70,171.34 L161.20,171.30 L161.70,171.26 L162.20,171.23 L162.70,171.19 L163.20,171.15 L163.70,171.11 L164.20,171.08 L164.70,171.04 L165.20,171.00" stroke="#2a2aa8" stroke-width="1.4" fill="none" />
<path d="M33.70,166.40 L34.20,166.46 L34.70,166.52 L35.20,166.58 L35.70,166.64 L36.20,166.69 L36.70,166.75 L37.20,166.81 L37.70,166.86 L38.20,166.92 L38.70,166.98 L39.20,167.03 L39.70,167.09 L40.20,167.15 L40.70,167.21 L41.20,167.27 L41.70,167.33 L42.20,167.40 L42.70,167.46 L43.20,167.53 L43.70,167.60 L44.20,167.68 L44.70,167.75 L45.00,167.80 L45.20,167.83 L45.70,167.91 L46.20,168.00 L46.70,168.08 L47.20,168.16 L47.70,168.25 L48.20,168.34 L48.70,168.42 L49.20,168.51 L49.70,168.60 L50.20,168.70 L50.70,168.79 L51.20,168.88 L51.70,168.97 L52.20,169.07 L52.70,169.16 L53.20,169.26 L53.70,169.35 L54.20,169.45 L54.70,169.55 L55.20,169.65 L55.70,169.74 L56.20,169.84 L56.70,169.94 L57.20,170.04 L57.70,170.14 L58.20,170.24 L58.70,170.34 L59.20,170.44 L59.70,170.54 L60.00,170.60 L60.20,170.64 L60.70,170.74 L61.20,170.83 L61.70,170.93 L62.20,171.03 L62.70,171.12 L63.20,171.22 L63.70,171.31 L64.20,171.41 L64.70,171.51 L65.20,171.61 L65.70,171.71 L66.20,171.82 L66.70,171.93 L67.20,172.05 L67.70,172.17 L68.20,172.30 L68.70,172.43 L69.20,172.57 L69.70,172.71 L70.00,172.80 L70.20,172.86 L70.70,173.02 L71.20,173.19 L71.70,173.37 L72.20,173.55 L72.70,173.74 L73.20,173.93 L73.70,174.13 L74.20,174.33 L74.70,174.53 L75.20,174.74 L75.70,174.95 L76.20,175.15 L76.70,175.36 L77.20,175.57 L77.70,175.78 L78.20,175.99 L78.70,176.19 L79.20,176.39 L79.70,176.58 L80.00,176.70 L80.20,176.78 L80.70,176.96 L81.20,177.13 L81.70,177.30 L82.20,177.47 L82.70,177.63 L83.20,177.80 L83.70,177.97 L84.20,178.15 L84.70,178.34 L85.20,178.55 L85.70,178.76 L86.00,178.90 L86.20,179.00 L86.70,179.26 L87.20,179.55 L87.70,179.86 L88.20,180.18 L88.70,180.52 L89.20,180.86 L89.70,181.20 L90.00,181.40 L90.20,181.53 L90.70,181.85 L91.20,182.17 L91.70,182.50 L92.20,182.87 L92.70,183.31 L93.00,183.60 L93.20,183.81 L93.70,184.40 L94.20,185.05 L94.70,185.74 L95.20,186.46 L95.70,187.18 L96.00,187.60 L96.20,187.89 L96.70,188.64 L97.20,189.41 L97.70,190.17 L98.00,190.60 L98.20,190.92 L98.70,191.81 L99.20,192.24 L99.30,192.20 L99.70,191.48 L100.20,189.88 L100.50,189.00 L100.70,188.50 L101.20,187.29 L101.70,186.14 L102.00,185.50 L102.20,185.08 L102.70,184.00 L103.20,182.91 L103.70,181.86 L104.20,180.93 L104.70,180.16 L105.00,179.80 L105.20,179.60 L105.70,179.15 L106.20,178.78 L106.70,178.46 L107.20,178.20 L107.70,177.98 L108.20,177.79 L108.70,177.62 L109.20,177.46 L109.70,177.30 L110.00,177.20 L110.20,177.13 L110.70,176.97 L111.20,176.82 L111.70,176.67 L112.20,176.53 L112.70,176.40 L113.20,176.27 L113.70,176.14 L114.20,176.02 L114.70,175.91 L115.20,175.79 L115.70,175.68 L116.20,175.57 L116.70,175.46 L117.20,175.35 L117.70,175.24 L118.20,175.13 L118.70,175.01 L119.20,174.89 L119.70,174.77 L120.00,174.70 L120.20,174.65 L120.70,174.52 L121.20,174.40 L121.70,174.27 L122.20,174.14 L122.70,174.02 L123.20,173.89 L123.70,173.76 L124.20,173.63 L124.70,173.51 L125.20,173.38 L125.70,173.25 L126.20,173.13 L126.70,173.00 L127.20,172.88 L127.70,172.75 L128.20,172.63 L128.70,172.51 L129.20,172.39 L129.70,172.27 L130.00,172.20 L130.20,172.15 L130.70,172.03 L131.20,171.92 L131.70,171.80 L132.20,171.68 L132.70,171.56 L133.20,171.44 L133.70,171.32 L134.20,171.20 L134.70,171.09 L135.20,170.97 L135.70,170.86 L136.20,170.75 L136.70,170.64 L137.20,170.53 L137.70,170.43 L138.20,170.33 L138.70,170.23 L139.20,170.14 L139.70,170.05 L140.00,170.00 L140.20,169.97 L140.70,169.89 L141.20,169.81 L141.70,169.73 L142.20,169.66 L142.70,169.59 L143.20,169.52 L143.70,169.46 L144.20,169.39 L144.70,169.33 L145.20,169.27 L145.70,169.21 L146.20,169.15 L146.70,169.10 L147.20,169.04 L147.70,168.98 L148.20,168.93 L148.70,168.87 L149.20,168.82 L149.70,168.76 L150.20,168.71 L150.70,168.65 L151.20,168.59 L151.70,168.54 L152.00,168.50 L152.20,168.48 L152.70,168.42 L153.20,168.36 L153.70,168.30 L154.20,168.24 L154.70,168.18 L155.20,168.13 L155.70,168.07 L156.20,168.01 L156.70,167.96 L157.20,167.90 L157.70,167.84 L158.20,167.79 L158.70,167.73 L159.20,167.67 L159.70,167.62 L160.20,167.56 L160.70,167.51 L161.20,167.45 L161.70,167.39 L162.20,167.34 L162.70,167.28 L163.20,167.23 L163.70,167.17 L164.20,167.11 L164.70,167.06 L165.20,167.00" stroke="#e0303a" stroke-width="1.4" fill="none" />
<path d="M33.70,222.60 L33.95,222.61 L34.20,222.62 L34.45,222.63 L34.70,222.63 L34.95,222.64 L35.20,222.65 L35.45,222.66 L35.70,222.66 L35.95,222.67 L36.20,222.68 L36.45,222.69 L36.70,222.70 L36.95,222.71 L37.20,222.72 L37.45,222.73 L37.70,222.74 L37.95,222.75 L38.20,222.76 L38.45,222.78 L38.70,222.79 L38.80,222.80 L38.95,222.81 L39.20,222.83 L39.45,222.85 L39.70,222.86 L39.95,222.88 L40.20,222.90 L40.45,222.92 L40.70,222.95 L40.95,222.97 L41.20,222.99 L41.45,223.01 L41.70,223.04 L41.95,223.06 L42.20,223.09 L42.45,223.11 L42.70,223.14 L42.95,223.17 L43.20,223.20 L43.45,223.23 L43.70,223.26 L43.95,223.29 L44.00,223.30 L44.20,223.33 L44.45,223.36 L44.70,223.40 L44.95,223.44 L45.20,223.49 L45.45,223.53 L45.70,223.57 L45.95,223.62 L46.20,223.67 L46.45,223.71 L46.70,223.76 L46.95,223.81 L47.20,223.86 L47.45,223.90 L47.70,223.95 L47.95,223.99 L48.20,224.04 L48.45,224.08 L48.60,224.10 L48.70,224.12 L48.95,224.15 L49.20,224.19 L49.45,224.23 L49.70,224.27 L49.95,224.30 L50.20,224.34 L50.45,224.37 L50.70,224.41 L50.95,224.44 L51.20,224.48 L51.45,224.51 L51.70,224.54 L51.95,224.58 L52.20,224.61 L52.45,224.65 L52.70,224.68 L52.95,224.71 L53.20,224.75 L53.45,224.78 L53.60,224.80 L53.70,224.81 L53.95,224.85 L54.20,224.88 L54.45,224.92 L54.70,224.95 L54.95,224.98 L55.20,225.02 L55.45,225.05 L55.70,225.08 L55.95,225.12 L56.20,225.15 L56.45,225.18 L56.70,225.22 L56.95,225.25 L57.20,225.28 L57.45,225.31 L57.70,225.34 L57.95,225.37 L58.20,225.40 L58.45,225.43 L58.70,225.46 L58.95,225.48 L59.20,225.51 L59.45,225.53 L59.70,225.56 L59.95,225.58 L60.20,225.60 L60.45,225.63 L60.70,225.65 L60.95,225.67 L61.20,225.70 L61.45,225.72 L61.70,225.74 L61.95,225.77 L62.20,225.80 L62.45,225.82 L62.70,225.85 L62.95,225.88 L63.10,225.90 L63.20,225.91 L63.45,225.94 L63.70,225.98 L63.95,226.01 L64.20,226.05 L64.45,226.08 L64.70,226.12 L64.95,226.16 L65.20,226.19 L65.45,226.23 L65.70,226.27 L65.95,226.31 L66.20,226.35 L66.45,226.39 L66.70,226.43 L66.95,226.47 L67.20,226.50 L67.45,226.54 L67.70,226.58 L67.80,226.60 L67.95,226.62 L68.20,226.66 L68.45,226.70 L68.70,226.74 L68.95,226.78 L69.20,226.81 L69.45,226.85 L69.70,226.89 L69.95,226.93 L70.20,226.96 L70.45,227.00 L70.70,227.04 L70.95,227.09 L71.20,227.13 L71.45,227.17 L71.70,227.22 L71.95,227.27 L72.20,227.32 L72.45,227.37 L72.60,227.40 L72.70,227.42 L72.95,227.48 L73.20,227.54 L73.45,227.60 L73.70,227.66 L73.95,227.72 L74.20,227.79 L74.45,227.86 L74.70,227.93 L74.95,227.99 L75.20,228.06 L75.45,228.13 L75.70,228.20 L75.95,228.27 L76.20,228.34 L76.45,228.41 L76.70,228.48 L76.95,228.55 L77.20,228.62 L77.45,228.69 L77.50,228.70 L77.70,228.75 L77.95,228.82 L78.20,228.88 L78.45,228.94 L78.70,229.00 L78.95,229.06 L79.20,229.11 L79.45,229.17 L79.70,229.23 L79.95,229.29 L80.20,229.35 L80.45,229.41 L80.70,229.48 L80.95,229.54 L81.20,229.61 L81.45,229.68 L81.70,229.75 L81.95,229.82 L82.20,229.90 L82.45,229.98 L82.50,230.00 L82.70,230.07 L82.95,230.16 L83.20,230.24 L83.45,230.34 L83.70,230.43 L83.95,230.53 L84.20,230.62 L84.45,230.72 L84.70,230.83 L84.95,230.93 L85.20,231.04 L85.45,231.14 L85.70,231.25 L85.95,231.36 L86.20,231.48 L86.45,231.59 L86.70,231.71 L86.95,231.83 L87.20,231.95 L87.30,232.00 L87.45,232.07 L87.70,232.19 L87.95,232.31 L88.20,232.42 L88.45,232.53 L88.70,232.64 L88.95,232.76 L89.20,232.88 L89.45,233.00 L89.70,233.12 L89.95,233.25 L90.20,233.39 L90.45,233.54 L90.70,233.69 L90.95,233.86 L91.20,234.03 L91.45,234.22 L91.70,234.43 L91.90,234.60 L91.95,234.64 L92.20,234.88 L92.45,235.13 L92.70,235.39 L92.95,235.67 L93.20,235.96 L93.45,236.27 L93.70,236.60 L93.95,236.94 L94.20,237.29 L94.45,237.66 L94.70,238.05 L94.95,238.44 L95.20,238.86 L95.40,239.20 L95.45,239.29 L95.70,239.77 L95.95,240.31 L96.20,240.92 L96.45,241.59 L96.70,242.32 L96.95,243.10 L97.10,243.60 L97.20,243.93 L97.45,244.78 L97.70,245.71 L97.95,246.85 L98.20,248.31 L98.30,249.00 L98.45,250.73 L98.70,254.75 L98.80,256.00 L98.95,257.61 L99.20,259.31 L99.30,259.00 L99.45,256.89 L99.70,251.23 L99.90,248.00 L99.95,247.61 L100.20,245.85 L100.45,244.38 L100.70,243.16 L100.95,242.15 L101.20,241.32 L101.45,240.61 L101.70,240.00 L101.95,239.46 L102.20,238.98 L102.45,238.56 L102.70,238.18 L102.95,237.85 L103.20,237.56 L103.45,237.30 L103.70,237.06 L103.95,236.84 L104.20,236.64 L104.45,236.43 L104.70,236.23 L104.95,236.02 L105.20,235.80 L105.45,235.57 L105.70,235.35 L105.95,235.14 L106.20,234.93 L106.45,234.73 L106.70,234.53 L106.95,234.34 L107.20,234.16 L107.45,233.98 L107.70,233.80 L107.95,233.63 L108.20,233.47 L108.45,233.31 L108.70,233.15 L108.95,233.00 L109.20,232.85 L109.45,232.70 L109.70,232.56 L109.80,232.50 L109.95,232.42 L110.20,232.28 L110.45,232.16 L110.70,232.03 L110.95,231.92 L111.20,231.81 L111.45,231.70 L111.70,231.60 L111.95,231.50 L112.20,231.40 L112.45,231.31 L112.70,231.22 L112.95,231.13 L113.20,231.04 L113.45,230.95 L113.70,230.86 L113.95,230.77 L114.20,230.67 L114.40,230.60 L114.45,230.58 L114.70,230.49 L114.95,230.39 L115.20,230.30 L115.45,230.21 L115.70,230.11 L115.95,230.02 L116.20,229.93 L116.45,229.84 L116.70,229.75 L116.95,229.66 L117.20,229.58 L117.45,229.49 L117.70,229.41 L117.95,229.32 L118.20,229.24 L118.45,229.16 L118.70,229.08 L118.95,229.00 L119.20,228.92 L119.45,228.84 L119.60,228.80 L119.70,228.77 L119.95,228.70 L120.20,228.63 L120.45,228.56 L120.70,228.50 L120.95,228.44 L121.20,228.38 L121.45,228.32 L121.70,228.26 L121.95,228.21 L122.20,228.15 L122.45,228.10 L122.70,228.04 L122.95,227.98 L123.20,227.93 L123.45,227.87 L123.70,227.82 L123.95,227.76 L124.20,227.70 L124.45,227.64 L124.70,227.58 L124.95,227.52 L125.20,227.45 L125.45,227.39 L125.70,227.33 L125.95,227.26 L126.20,227.20 L126.45,227.14 L126.70,227.07 L126.95,227.01 L127.20,226.95 L127.45,226.89 L127.70,226.83 L127.95,226.78 L128.20,226.72 L128.45,226.67 L128.70,226.62 L128.80,226.60 L128.95,226.57 L129.20,226.52 L129.45,226.48 L129.70,226.43 L129.95,226.38 L130.20,226.34 L130.45,226.30 L130.70,226.25 L130.95,226.21 L131.20,226.17 L131.45,226.13 L131.70,226.09 L131.95,226.05 L132.20,226.01 L132.45,225.97 L132.70,225.93 L132.95,225.89 L133.20,225.85 L133.45,225.82 L133.70,225.78 L133.95,225.75 L134.20,225.71 L134.45,225.68 L134.70,225.64 L134.95,225.61 L135.00,225.60 L135.20,225.57 L135.45,225.54 L135.70,225.51 L135.95,225.47 L136.20,225.44 L136.45,225.41 L136.70,225.37 L136.95,225.34 L137.20,225.31 L137.45,225.28 L137.70,225.25 L137.95,225.21 L138.20,225.18 L138.45,225.15 L138.70,225.12 L138.95,225.09 L139.20,225.06 L139.45,225.03 L139.70,225.00 L139.95,224.97 L140.20,224.94 L140.45,224.91 L140.70,224.88 L140.95,224.85 L141.20,224.82 L141.45,224.79 L141.70,224.76 L141.95,224.73 L142.20,224.71 L142.45,224.68 L142.70,224.65 L142.95,224.62 L143.20,224.59 L143.45,224.57 L143.70,224.54 L143.95,224.51 L144.20,224.48 L144.45,224.46 L144.70,224.43 L144.95,224.41 L145.00,224.40 L145.20,224.38 L145.45,224.35 L145.70,224.33 L145.95,224.30 L146.20,224.28 L146.45,224.25 L146.70,224.23 L146.95,224.20 L147.20,224.18 L147.45,224.16 L147.70,224.13 L147.95,224.11 L148.20,224.09 L148.45,224.06 L148.70,224.04 L148.95,224.02 L149.20,223.99 L149.45,223.97 L149.70,223.95 L149.95,223.93 L150.20,223.91 L150.45,223.88 L150.70,223.86 L150.95,223.84 L151.20,223.82 L151.45,223.80 L151.70,223.78 L151.95,223.76 L152.20,223.74 L152.45,223.71 L152.70,223.69 L152.95,223.67 L153.20,223.65 L153.45,223.63 L153.70,223.61 L153.95,223.59 L154.20,223.57 L154.45,223.55 L154.70,223.53 L154.95,223.50 L155.00,223.50 L155.20,223.48 L155.45,223.46 L155.70,223.44 L155.95,223.42 L156.20,223.40 L156.45,223.38 L156.70,223.36 L156.95,223.34 L157.20,223.32 L157.45,223.30 L157.70,223.28 L157.95,223.26 L158.20,223.24 L158.45,223.22 L158.70,223.20 L158.95,223.18 L159.20,223.16 L159.45,223.14 L159.70,223.12 L159.95,223.10 L160.20,223.09 L160.45,223.07 L160.70,223.05 L160.95,223.03 L161.20,223.01 L161.45,222.99 L161.70,222.97 L161.95,222.95 L162.20,222.93 L162.45,222.91 L162.70,222.89 L162.95,222.87 L163.20,222.86 L163.45,222.84 L163.70,222.82 L163.95,222.80 L164.20,222.78 L164.45,222.76 L164.70,222.74 L164.95,222.72 L165.20,222.70" stroke="#111" stroke-width="1.5" fill="none" stroke-dasharray="1.4 3.3"/>
</g>
<clipPath id="clipc"><rect x="33.7" y="161.2" width="131.5" height="97.10000000000002"/></clipPath>
<rect x="33.70" y="161.20" width="131.50" height="97.10" fill="none" stroke="#555" stroke-width="0.9" />
<line x1="33.70" y1="165.00" x2="35.70" y2="165.00" stroke="#555" stroke-width="0.9" />
<text x="31.40" y="167.60" font-family="'Liberation Sans', Arial, sans-serif" font-size="7.3" font-weight="bold" text-anchor="end" fill="#1a1a1a" >1E-6</text>
<line x1="33.70" y1="177.10" x2="35.70" y2="177.10" stroke="#555" stroke-width="0.9" />
<text x="31.40" y="179.70" font-family="'Liberation Sans', Arial, sans-serif" font-size="7.3" font-weight="bold" text-anchor="end" fill="#1a1a1a" >1E-7</text>
<line x1="33.70" y1="189.20" x2="35.70" y2="189.20" stroke="#555" stroke-width="0.9" />
<text x="31.40" y="191.80" font-family="'Liberation Sans', Arial, sans-serif" font-size="7.3" font-weight="bold" text-anchor="end" fill="#1a1a1a" >1E-8</text>
<line x1="33.70" y1="201.30" x2="35.70" y2="201.30" stroke="#555" stroke-width="0.9" />
<text x="31.40" y="203.90" font-family="'Liberation Sans', Arial, sans-serif" font-size="7.3" font-weight="bold" text-anchor="end" fill="#1a1a1a" >1E-9</text>
<line x1="33.70" y1="213.40" x2="35.70" y2="213.40" stroke="#555" stroke-width="0.9" />
<text x="31.40" y="216.00" font-family="'Liberation Sans', Arial, sans-serif" font-size="7.3" font-weight="bold" text-anchor="end" fill="#1a1a1a" >1E-10</text>
<line x1="33.70" y1="225.50" x2="35.70" y2="225.50" stroke="#555" stroke-width="0.9" />
<text x="31.40" y="228.10" font-family="'Liberation Sans', Arial, sans-serif" font-size="7.3" font-weight="bold" text-anchor="end" fill="#1a1a1a" >1E-11</text>
<line x1="33.70" y1="237.60" x2="35.70" y2="237.60" stroke="#555" stroke-width="0.9" />
<text x="31.40" y="240.20" font-family="'Liberation Sans', Arial, sans-serif" font-size="7.3" font-weight="bold" text-anchor="end" fill="#1a1a1a" >1E-12</text>
<line x1="33.70" y1="249.70" x2="35.70" y2="249.70" stroke="#555" stroke-width="0.9" />
<text x="31.40" y="252.30" font-family="'Liberation Sans', Arial, sans-serif" font-size="7.3" font-weight="bold" text-anchor="end" fill="#1a1a1a" >1E-13</text>
<line x1="33.86" y1="258.30" x2="33.86" y2="256.30" stroke="#555" stroke-width="0.9" />
<text x="33.86" y="266.80" font-family="'Liberation Sans', Arial, sans-serif" font-size="7.3" font-weight="bold" text-anchor="middle" fill="#1a1a1a" >-3</text>
<line x1="55.69" y1="258.30" x2="55.69" y2="256.30" stroke="#555" stroke-width="0.9" />
<line x1="66.60" y1="258.30" x2="66.60" y2="257.10" stroke="#555" stroke-width="0.8" />
<text x="55.69" y="266.80" font-family="'Liberation Sans', Arial, sans-serif" font-size="7.3" font-weight="bold" text-anchor="middle" fill="#1a1a1a" >-2</text>
<line x1="77.52" y1="258.30" x2="77.52" y2="256.30" stroke="#555" stroke-width="0.9" />
<line x1="88.44" y1="258.30" x2="88.44" y2="257.10" stroke="#555" stroke-width="0.8" />
<text x="77.52" y="266.80" font-family="'Liberation Sans', Arial, sans-serif" font-size="7.3" font-weight="bold" text-anchor="middle" fill="#1a1a1a" >-1</text>
<line x1="99.35" y1="258.30" x2="99.35" y2="256.30" stroke="#555" stroke-width="0.9" />
<line x1="110.26" y1="258.30" x2="110.26" y2="257.10" stroke="#555" stroke-width="0.8" />
<text x="99.35" y="266.80" font-family="'Liberation Sans', Arial, sans-serif" font-size="7.3" font-weight="bold" text-anchor="middle" fill="#1a1a1a" >0</text>
<line x1="121.18" y1="258.30" x2="121.18" y2="256.30" stroke="#555" stroke-width="0.9" />
<line x1="132.09" y1="258.30" x2="132.09" y2="257.10" stroke="#555" stroke-width="0.8" />
<text x="121.18" y="266.80" font-family="'Liberation Sans', Arial, sans-serif" font-size="7.3" font-weight="bold" text-anchor="middle" fill="#1a1a1a" >1</text>
<line x1="143.01" y1="258.30" x2="143.01" y2="256.30" stroke="#555" stroke-width="0.9" />
<line x1="153.92" y1="258.30" x2="153.92" y2="257.10" stroke="#555" stroke-width="0.8" />
<text x="143.01" y="266.80" font-family="'Liberation Sans', Arial, sans-serif" font-size="7.3" font-weight="bold" text-anchor="middle" fill="#1a1a1a" >2</text>
<line x1="164.84" y1="258.30" x2="164.84" y2="256.30" stroke="#555" stroke-width="0.9" />
<text x="164.84" y="266.80" font-family="'Liberation Sans', Arial, sans-serif" font-size="7.3" font-weight="bold" text-anchor="middle" fill="#1a1a1a" >3</text>
<line x1="44.77" y1="258.30" x2="44.77" y2="257.10" stroke="#555" stroke-width="0.8" />
<clipPath id="clipcd"><rect x="0" y="260" width="350" height="17.0"/></clipPath>
<text x="99.20" y="276.00" font-family="'Liberation Sans', Arial, sans-serif" font-size="7.4" font-weight="bold" text-anchor="middle" fill="#1a1a1a" clip-path="url(#clipcd)">Voltage (V)</text>
<text x="10.20" y="203.00" font-family="'Liberation Sans', Arial, sans-serif" font-size="7.4" font-weight="bold" text-anchor="middle" fill="#1a1a1a" transform="rotate(-90 10.2 203.0)">Current (A)</text>
<text x="44.00" y="246.80" font-family="'Liberation Sans', Arial, sans-serif" font-size="5.8" font-weight="bold" text-anchor="start" fill="#333" >&#955;=300 nm</text>
<line x1="43.30" y1="251.60" x2="54.00" y2="251.60" stroke="#222" stroke-width="1.2" stroke-dasharray="1.3 1.6"/>
<text x="57.70" y="253.70" font-family="'Liberation Sans', Arial, sans-serif" font-size="5.8" font-weight="bold" text-anchor="start" fill="#333" >dark</text>
<line x1="113.80" y1="235.30" x2="121.50" y2="235.30" stroke="#222" stroke-width="1.2" />
<text x="122.80" y="237.50" font-family="'Liberation Sans', Arial, sans-serif" font-size="6.1" font-weight="bold" text-anchor="start" fill="#222" >0.224 mWcm<tspan font-size="4.3" dy="-2.6">-2</tspan></text>
<line x1="113.80" y1="244.70" x2="121.50" y2="244.70" stroke="#4444aa" stroke-width="1.2" />
<text x="122.80" y="246.90" font-family="'Liberation Sans', Arial, sans-serif" font-size="6.1" font-weight="bold" text-anchor="start" fill="#222" >0.287 mWcm<tspan font-size="4.3" dy="-2.6">-2</tspan></text>
<line x1="113.80" y1="253.30" x2="121.50" y2="253.30" stroke="#e07070" stroke-width="1.2" />
<text x="122.80" y="255.50" font-family="'Liberation Sans', Arial, sans-serif" font-size="6.1" font-weight="bold" text-anchor="start" fill="#222" >0.342 mWcm<tspan font-size="4.3" dy="-2.6">-2</tspan></text>
<text x="178.50" y="166.10" font-family="'Liberation Sans', Arial, sans-serif" font-size="12.4" font-weight="bold" text-anchor="start" fill="#000" >d</text>
<rect x="223.10" y="170.00" width="11.90" height="88.10" fill="#e8e6f0" stroke="none" stroke-width="1" />
<rect x="235.00" y="161.70" width="11.90" height="96.40" fill="#fbf3c6" stroke="none" stroke-width="1" />
<rect x="246.90" y="170.00" width="12.10" height="88.10" fill="#efe8f0" stroke="none" stroke-width="1" />
<rect x="259.00" y="161.70" width="12.90" height="96.40" fill="#fefcee" stroke="none" stroke-width="1" />
<path d="M211.30,242.30 L220.90,242.30 Q223.10,242.30 223.10,240.10 L223.10,170.50 Q223.10,169.50 224.10,169.50 L234.00,169.50 Q235.00,169.50 235.00,170.50 L235.00,240.10 Q235.00,242.30 237.20,242.30 L244.70,242.30 Q246.90,242.30 246.90,240.10 L246.90,170.50 Q246.90,169.50 247.90,169.50 L258.00,169.50 Q259.00,169.50 259.00,170.50 L259.00,240.10 Q259.00,242.30 261.20,242.30 L269.70,242.30 Q271.90,242.30 271.90,240.10 L271.90,170.50 Q271.90,169.50 272.90,169.50 L283.20,169.50 Q284.20,169.50 284.20,170.50 L284.20,240.10 Q284.20,242.30 286.40,242.30 L294.00,242.30 Q296.20,242.30 296.20,240.10 L296.20,170.50 Q296.20,169.50 297.20,169.50 L307.80,169.50 Q308.80,169.50 308.80,170.50 L308.80,240.10 Q308.80,242.30 311.00,242.30 L317.90,242.30 Q320.10,242.30 320.10,240.10 L320.10,170.50 Q320.10,169.50 321.10,169.50 L332.00,169.50 Q333.00,169.50 333.00,170.50 L333.00,240.10 Q333.00,242.30 335.20,242.30 L343.40,242.30" stroke="#e03838" stroke-width="1.2" fill="none"/>
<path d="M211.30,242.50 L220.90,242.50 Q223.10,242.50 223.10,240.30 L223.10,173.40 Q223.10,172.40 224.10,172.40 L234.30,172.40 Q235.30,172.40 235.30,173.40 L235.30,240.30 Q235.30,242.50 237.50,242.50 L244.70,242.50 Q246.90,242.50 246.90,240.30 L246.90,173.40 Q246.90,172.40 247.90,172.40 L258.30,172.40 Q259.30,172.40 259.30,173.40 L259.30,240.30 Q259.30,242.50 261.50,242.50 L269.70,242.50 Q271.90,242.50 271.90,240.30 L271.90,173.40 Q271.90,172.40 272.90,172.40 L283.80,172.40 Q284.80,172.40 284.80,173.40 L284.80,240.30 Q284.80,242.50 287.00,242.50 L294.00,242.50 Q296.20,242.50 296.20,240.30 L296.20,173.40 Q296.20,172.40 297.20,172.40 L310.20,172.40 Q311.20,172.40 311.20,173.40 L311.20,240.30 Q311.20,242.50 313.40,242.50 L317.90,242.50 Q320.10,242.50 320.10,240.30 L320.10,173.40 Q320.10,172.40 321.10,172.40 L334.20,172.40 Q335.20,172.40 335.20,173.40 L335.20,240.30 Q335.20,242.50 337.40,242.50 L343.40,242.50" stroke="#3a32b0" stroke-width="1.5" fill="none"/>
<path d="M211.30,242.70 L220.90,242.70 Q223.10,242.70 223.10,240.50 L223.10,178.30 Q223.10,177.30 224.10,177.30 L234.00,177.30 Q235.00,177.30 235.00,178.30 L235.00,240.50 Q235.00,242.70 237.20,242.70 L244.70,242.70 Q246.90,242.70 246.90,240.50 L246.90,178.30 Q246.90,177.30 247.90,177.30 L258.00,177.30 Q259.00,177.30 259.00,178.30 L259.00,240.50 Q259.00,242.70 261.20,242.70 L269.70,242.70 Q271.90,242.70 271.90,240.50 L271.90,178.30 Q271.90,177.30 272.90,177.30 L283.40,177.30 Q284.40,177.30 284.40,178.30 L284.40,240.50 Q284.40,242.70 286.60,242.70 L294.00,242.70 Q296.20,242.70 296.20,240.50 L296.20,178.30 Q296.20,177.30 297.20,177.30 L308.30,177.30 Q309.30,177.30 309.30,178.30 L309.30,240.50 Q309.30,242.70 311.50,242.70 L317.90,242.70 Q320.10,242.70 320.10,240.50 L320.10,178.30 Q320.10,177.30 321.10,177.30 L332.20,177.30 Q333.20,177.30 333.20,178.30 L333.20,240.50 Q333.20,242.70 335.40,242.70 L343.40,242.70" stroke="#111" stroke-width="1.6" fill="none"/>
<rect x="211.30" y="161.20" width="132.10" height="96.90" fill="none" stroke="#555" stroke-width="0.9" />
<line x1="211.30" y1="165.90" x2="213.30" y2="165.90" stroke="#555" stroke-width="0.9" />
<text x="209.20" y="168.60" font-family="'Liberation Sans', Arial, sans-serif" font-size="7.5" font-weight="bold" text-anchor="end" fill="#1a1a1a" >1E-6</text>
<line x1="211.30" y1="182.10" x2="213.30" y2="182.10" stroke="#555" stroke-width="0.9" />
<text x="209.20" y="184.80" font-family="'Liberation Sans', Arial, sans-serif" font-size="7.5" font-weight="bold" text-anchor="end" fill="#1a1a1a" >1E-7</text>
<line x1="211.30" y1="198.30" x2="213.30" y2="198.30" stroke="#555" stroke-width="0.9" />
<text x="209.20" y="201.00" font-family="'Liberation Sans', Arial, sans-serif" font-size="7.5" font-weight="bold" text-anchor="end" fill="#1a1a1a" >1E-8</text>
<line x1="211.30" y1="214.50" x2="213.30" y2="214.50" stroke="#555" stroke-width="0.9" />
<text x="209.20" y="217.20" font-family="'Liberation Sans', Arial, sans-serif" font-size="7.5" font-weight="bold" text-anchor="end" fill="#1a1a1a" >1E-9</text>
<line x1="211.30" y1="230.70" x2="213.30" y2="230.70" stroke="#555" stroke-width="0.9" />
<text x="209.20" y="233.40" font-family="'Liberation Sans', Arial, sans-serif" font-size="7.5" font-weight="bold" text-anchor="end" fill="#1a1a1a" >1E-10</text>
<line x1="211.30" y1="246.90" x2="213.30" y2="246.90" stroke="#555" stroke-width="0.9" />
<text x="209.20" y="249.60" font-family="'Liberation Sans', Arial, sans-serif" font-size="7.5" font-weight="bold" text-anchor="end" fill="#1a1a1a" >1E-11</text>
<line x1="211.30" y1="258.10" x2="211.30" y2="256.10" stroke="#555" stroke-width="0.9" />
<text x="211.30" y="266.60" font-family="'Liberation Sans', Arial, sans-serif" font-size="7.3" font-weight="bold" text-anchor="middle" fill="#1a1a1a" >0</text>
<line x1="231.30" y1="258.10" x2="231.30" y2="256.10" stroke="#555" stroke-width="0.9" />
<text x="231.30" y="266.60" font-family="'Liberation Sans', Arial, sans-serif" font-size="7.3" font-weight="bold" text-anchor="middle" fill="#1a1a1a" >50</text>
<line x1="251.30" y1="258.10" x2="251.30" y2="256.10" stroke="#555" stroke-width="0.9" />
<text x="251.30" y="266.60" font-family="'Liberation Sans', Arial, sans-serif" font-size="7.3" font-weight="bold" text-anchor="middle" fill="#1a1a1a" >100</text>
<line x1="271.30" y1="258.10" x2="271.30" y2="256.10" stroke="#555" stroke-width="0.9" />
<text x="271.30" y="266.60" font-family="'Liberation Sans', Arial, sans-serif" font-size="7.3" font-weight="bold" text-anchor="middle" fill="#1a1a1a" >150</text>
<line x1="291.30" y1="258.10" x2="291.30" y2="256.10" stroke="#555" stroke-width="0.9" />
<text x="291.30" y="266.60" font-family="'Liberation Sans', Arial, sans-serif" font-size="7.3" font-weight="bold" text-anchor="middle" fill="#1a1a1a" >200</text>
<line x1="311.30" y1="258.10" x2="311.30" y2="256.10" stroke="#555" stroke-width="0.9" />
<text x="311.30" y="266.60" font-family="'Liberation Sans', Arial, sans-serif" font-size="7.3" font-weight="bold" text-anchor="middle" fill="#1a1a1a" >250</text>
<line x1="331.30" y1="258.10" x2="331.30" y2="256.10" stroke="#555" stroke-width="0.9" />
<text x="331.30" y="266.60" font-family="'Liberation Sans', Arial, sans-serif" font-size="7.3" font-weight="bold" text-anchor="middle" fill="#1a1a1a" >300</text>
<text x="279.00" y="277.60" font-family="'Liberation Sans', Arial, sans-serif" font-size="7.3" font-weight="bold" text-anchor="middle" fill="#1a1a1a" clip-path="url(#clipcd)">Time (s)</text>
<text x="186.20" y="213.00" font-family="'Liberation Sans', Arial, sans-serif" font-size="7.6" font-weight="bold" text-anchor="middle" fill="#1a1a1a" transform="rotate(-90 186.2 213.0)">Current (A)</text>
<text x="229.60" y="166.90" font-family="'Liberation Sans', Arial, sans-serif" font-size="6.2" font-weight="bold" text-anchor="middle" fill="#222" >on</text>
<text x="242.00" y="166.90" font-family="'Liberation Sans', Arial, sans-serif" font-size="6.2" font-weight="bold" text-anchor="middle" fill="#222" >off</text>
<text x="253.90" y="166.90" font-family="'Liberation Sans', Arial, sans-serif" font-size="6.2" font-weight="bold" text-anchor="middle" fill="#222" >on</text>
<text x="342.00" y="167.00" font-family="'Liberation Sans', Arial, sans-serif" font-size="6.2" font-weight="bold" text-anchor="end" fill="#222" >300 nm</text>
<line x1="224.60" y1="252.90" x2="232.30" y2="252.90" stroke="#333" stroke-width="1.3" />
<text x="234.00" y="255.00" font-family="'Liberation Sans', Arial, sans-serif" font-size="6.0" font-weight="bold" text-anchor="start" fill="#222" >0.224</text>
<line x1="250.60" y1="252.90" x2="258.80" y2="252.90" stroke="#5858b8" stroke-width="1.3" />
<text x="260.20" y="255.00" font-family="'Liberation Sans', Arial, sans-serif" font-size="6.0" font-weight="bold" text-anchor="start" fill="#222" >0.287</text>
<line x1="277.30" y1="252.90" x2="285.00" y2="252.90" stroke="#e88080" stroke-width="1.3" />
<text x="286.80" y="255.00" font-family="'Liberation Sans', Arial, sans-serif" font-size="6.0" font-weight="bold" text-anchor="start" fill="#222" >0.342 (mWcm<tspan font-size="4.2" dy="-2.5">-2</tspan><tspan dy="2.5">)</tspan></text>
<text x="355.70" y="166.00" font-family="'Liberation Sans', Arial, sans-serif" font-size="12.4" font-weight="bold" text-anchor="start" fill="#000" >e</text>
<line x1="384.70" y1="178.50" x2="512.70" y2="178.50" stroke="#2e2e92" stroke-width="1.5" stroke-dasharray="5 3.5 1 3.5" stroke-dashoffset="-2.7"/>
<line x1="384.70" y1="241.70" x2="512.70" y2="241.70" stroke="#2e2e92" stroke-width="1.5" stroke-dasharray="5 3.5 1 3.5" stroke-dashoffset="-2.7"/>
<path d="M383.07,248.20 L399.68,248.00 L403.61,247.60" stroke="#000" stroke-width="1.8" fill="none" />
<path d="M403.61,245.20 L403.88,249.60" stroke="#000" stroke-width="1.1" fill="none" />
<circle cx="404.8" cy="231.40" r="0.62" fill="#000"/>
<circle cx="404.8" cy="203.40" r="0.62" fill="#000"/>
<circle cx="404.8" cy="200.40" r="0.62" fill="#000"/>
<circle cx="404.8" cy="197.60" r="0.62" fill="#000"/>
<circle cx="404.8" cy="195.00" r="0.62" fill="#000"/>
<circle cx="404.8" cy="192.60" r="0.62" fill="#000"/>
<path d="M404.90,190.00 L405.10,181.00 L405.30,177.27 L405.50,175.00 L405.70,173.25 L405.90,172.05 L406.10,171.21 L406.30,170.60 L406.50,170.21 L406.70,170.00 L406.90,170.00 L407.10,170.20 L407.30,170.57 L407.50,171.07 L407.70,171.70 L407.90,172.43 L408.10,173.21 L408.30,174.00 L408.50,174.76 L408.70,175.51 L408.90,176.28 L409.10,177.12 L409.30,178.07 L409.50,179.16 L409.70,180.33 L409.90,181.56 L410.10,182.83 L410.30,184.13 L410.50,185.44 L410.70,186.74 L410.90,188.02 L411.10,189.26 L411.30,190.44 L411.50,191.55 L411.70,192.63 L411.90,193.68 L412.10,194.71 L412.30,195.72 L412.50,196.70 L412.70,197.66 L412.90,198.60 L413.10,199.52 L413.30,200.42 L413.50,201.30 L413.70,202.17 L413.90,203.05 L414.10,203.93 L414.30,204.80 L414.50,205.66 L414.70,206.52 L414.90,207.36 L415.10,208.19 L415.30,209.01 L415.50,209.80 L415.70,210.57 L415.90,211.32 L416.10,212.04 L416.30,212.73 L416.50,213.38 L416.70,214.01 L416.90,214.62 L417.10,215.22 L417.30,215.80 L417.50,216.37 L417.70,216.93 L417.90,217.48 L418.10,218.01 L418.30,218.54 L418.50,219.05 L418.70,219.54 L418.90,220.03 L419.10,220.50 L419.30,220.96 L419.50,221.41 L419.70,221.84 L419.90,222.26 L420.10,222.67 L420.30,223.07 L420.50,223.45 L420.70,223.82 L420.90,224.18 L421.10,224.53 L421.30,224.87 L421.50,225.21 L421.70,225.55 L421.90,225.87 L422.10,226.19 L422.30,226.51 L422.50,226.81 L422.70,227.12 L422.90,227.41 L423.10,227.70 L423.30,227.99 L423.50,228.27 L423.70,228.54 L423.90,228.81 L424.10,229.07 L424.30,229.33 L424.50,229.58 L424.70,229.83 L424.90,230.07 L425.10,230.30 L425.30,230.54 L425.50,230.76 L425.70,230.98 L425.90,231.20 L426.10,231.41 L426.30,231.62 L426.50,231.82 L426.70,232.01 L426.90,232.21 L427.10,232.39 L427.30,232.58 L427.50,232.76 L427.70,232.93 L427.90,233.11 L428.10,233.28 L428.30,233.44 L428.50,233.61 L428.70,233.77 L428.90,233.92 L429.10,234.08 L429.30,234.23 L429.50,234.38 L429.70,234.52 L429.90,234.66 L430.10,234.80 L430.30,234.94 L430.50,235.07 L430.70,235.20 L430.90,235.33 L431.10,235.45 L431.30,235.57 L431.50,235.69 L431.70,235.81 L431.90,235.92 L432.10,236.03 L432.30,236.14 L432.50,236.25 L432.70,236.36 L432.90,236.46 L433.10,236.56 L433.30,236.66 L433.50,236.76 L433.70,236.85 L433.90,236.94 L434.10,237.03 L434.30,237.12 L434.50,237.21 L434.70,237.29 L434.90,237.38 L435.10,237.46 L435.30,237.54 L435.50,237.62 L435.70,237.70 L435.90,237.77 L436.10,237.85 L436.30,237.92 L436.50,237.99 L436.70,238.06 L436.90,238.13 L437.10,238.20 L437.30,238.27 L437.50,238.33 L437.70,238.40 L437.90,238.46 L438.10,238.52 L438.30,238.59 L438.50,238.65 L438.70,238.70 L438.90,238.76 L439.10,238.82 L439.30,238.88 L439.50,238.93 L439.70,238.98 L439.90,239.04 L440.10,239.09 L440.30,239.14 L440.50,239.19 L440.70,239.24 L440.90,239.29 L441.10,239.34 L441.30,239.38 L441.50,239.43 L441.70,239.48 L441.90,239.52 L442.10,239.57 L442.30,239.61 L442.50,239.65 L442.70,239.69 L442.90,239.74 L443.10,239.78 L443.30,239.82 L443.50,239.86 L443.70,239.90 L443.90,239.93 L444.10,239.97 L444.30,240.01 L444.50,240.05 L444.70,240.08 L444.90,240.12 L445.10,240.16 L445.30,240.19 L445.50,240.23 L445.70,240.26 L445.90,240.30 L446.10,240.33 L446.30,240.37 L446.50,240.40 L446.70,240.43 L446.90,240.47 L447.10,240.50 L447.30,240.53 L447.50,240.57 L447.70,240.60 L447.90,240.63 L448.10,240.67 L448.30,240.70 L448.50,240.73 L448.70,240.76 L448.90,240.79 L449.10,240.82 L449.30,240.85 L449.50,240.88 L449.70,240.91 L449.90,240.94 L450.10,240.97 L450.30,241.00 L450.50,241.03 L450.70,241.06 L450.90,241.09 L451.10,241.12 L451.30,241.15 L451.50,241.17 L451.70,241.20 L451.90,241.23 L452.10,241.25 L452.30,241.28 L452.50,241.31 L452.70,241.33 L452.90,241.36 L453.10,241.39 L453.30,241.41 L453.50,241.44 L453.70,241.46 L453.90,241.49 L454.10,241.51 L454.30,241.54 L454.50,241.56 L454.70,241.58 L454.90,241.61 L455.10,241.63 L455.30,241.66 L455.50,241.68 L455.70,241.70 L455.90,241.72 L456.10,241.75 L456.30,241.77 L456.50,241.79 L456.70,241.81 L456.90,241.84 L457.10,241.86 L457.30,241.88 L457.50,241.90 L457.70,241.92 L457.90,241.95 L458.10,241.97 L458.30,241.99 L458.50,242.01 L458.70,242.03 L458.90,242.05 L459.10,242.07 L459.30,242.09 L459.50,242.11 L459.70,242.13 L459.90,242.15 L460.10,242.17 L460.30,242.19 L460.50,242.21 L460.70,242.23 L460.90,242.25 L461.10,242.27 L461.30,242.29 L461.50,242.31 L461.70,242.33 L461.90,242.34 L462.10,242.36 L462.30,242.38 L462.50,242.40 L462.70,242.42 L462.90,242.44 L463.10,242.46 L463.30,242.48 L463.50,242.49 L463.70,242.51 L463.90,242.53 L464.10,242.55 L464.30,242.57 L464.50,242.59 L464.70,242.60 L464.90,242.62 L465.10,242.64 L465.30,242.66 L465.50,242.68 L465.70,242.69 L465.90,242.71 L466.10,242.73 L466.30,242.75 L466.50,242.77 L466.70,242.78 L466.90,242.80 L467.10,242.82 L467.30,242.84 L467.50,242.86 L467.70,242.87 L467.90,242.89 L468.10,242.91 L468.30,242.93 L468.50,242.94 L468.70,242.96 L468.90,242.98 L469.10,243.00 L469.30,243.01 L469.50,243.03 L469.70,243.05 L469.90,243.07 L470.10,243.08 L470.30,243.10 L470.50,243.12 L470.70,243.13 L470.90,243.15 L471.10,243.17 L471.30,243.18 L471.50,243.20 L471.70,243.21 L471.90,243.23 L472.10,243.25 L472.30,243.26 L472.50,243.28 L472.70,243.29 L472.90,243.31 L473.10,243.32 L473.30,243.34 L473.50,243.36 L473.70,243.37 L473.90,243.39 L474.10,243.40 L474.30,243.42 L474.50,243.43 L474.70,243.44 L474.90,243.46 L475.10,243.47 L475.30,243.49 L475.50,243.50 L475.70,243.52 L475.90,243.53 L476.10,243.55 L476.30,243.56 L476.50,243.57 L476.70,243.59 L476.90,243.60 L477.10,243.62 L477.30,243.63 L477.50,243.64 L477.70,243.66 L477.90,243.67 L478.10,243.68 L478.30,243.70 L478.50,243.71 L478.70,243.72 L478.90,243.74 L479.10,243.75 L479.30,243.76 L479.50,243.78 L479.70,243.79 L479.90,243.80 L480.10,243.82 L480.30,243.83 L480.50,243.84 L480.70,243.85 L480.90,243.87 L481.10,243.88 L481.30,243.89 L481.50,243.90 L481.70,243.92 L481.90,243.93 L482.10,243.94 L482.30,243.95 L482.50,243.97 L482.70,243.98 L482.90,243.99 L483.10,244.00 L483.30,244.01 L483.50,244.03 L483.70,244.04 L483.90,244.05 L484.10,244.06 L484.30,244.07 L484.50,244.09 L484.70,244.10 L484.90,244.11 L485.10,244.12 L485.30,244.13 L485.50,244.14 L485.70,244.16 L485.90,244.17 L486.10,244.18 L486.30,244.19 L486.50,244.20 L486.70,244.21 L486.90,244.23 L487.10,244.24 L487.30,244.25 L487.50,244.26 L487.70,244.27 L487.90,244.28 L488.10,244.29 L488.30,244.30 L488.50,244.32 L488.70,244.33 L488.90,244.34 L489.10,244.35 L489.30,244.36 L489.50,244.37 L489.70,244.38 L489.90,244.39 L490.10,244.41 L490.30,244.42 L490.50,244.43 L490.70,244.44 L490.90,244.45 L491.10,244.46 L491.30,244.47 L491.50,244.48 L491.70,244.49 L491.90,244.50 L492.10,244.51 L492.30,244.52 L492.50,244.53 L492.70,244.54 L492.90,244.55 L493.10,244.56 L493.30,244.57 L493.50,244.58 L493.70,244.59 L493.90,244.60 L494.10,244.61 L494.30,244.62 L494.50,244.63 L494.70,244.64 L494.90,244.65 L495.10,244.66 L495.30,244.67 L495.50,244.68 L495.70,244.69 L495.90,244.70 L496.10,244.70 L496.30,244.71 L496.50,244.72 L496.70,244.73 L496.90,244.74 L497.10,244.75 L497.30,244.76 L497.50,244.77 L497.70,244.78 L497.90,244.78 L498.10,244.79 L498.30,244.80 L498.50,244.81 L498.70,244.82 L498.90,244.83 L499.10,244.84 L499.30,244.84 L499.50,244.85 L499.70,244.86 L499.90,244.87 L500.10,244.88 L500.30,244.89 L500.50,244.89 L500.70,244.90 L500.90,244.91 L501.10,244.92 L501.30,244.93 L501.50,244.93 L501.70,244.94 L501.90,244.95 L502.10,244.96 L502.30,244.97 L502.50,244.97 L502.70,244.98 L502.90,244.99 L503.10,245.00 L503.30,245.01 L503.50,245.01 L503.70,245.02 L503.90,245.03 L504.10,245.04 L504.30,245.05 L504.50,245.05 L504.70,245.06 L504.90,245.07 L505.10,245.08 L505.30,245.09 L505.50,245.09 L505.70,245.10 L505.90,245.11 L506.10,245.12 L506.30,245.13 L506.50,245.13 L506.70,245.14 L506.90,245.15 L507.10,245.16 L507.30,245.17 L507.50,245.17 L507.70,245.18 L507.90,245.19 L508.10,245.20 L508.30,245.20 L508.50,245.21 L508.70,245.22 L508.90,245.23 L509.10,245.24 L509.30,245.25 L509.50,245.25 L509.70,245.26 L509.90,245.27 L510.10,245.28 L510.30,245.29 L510.50,245.29 L510.70,245.30 L510.90,245.31 L511.10,245.32 L511.30,245.33 L511.50,245.34 L511.70,245.34 L511.90,245.35 L512.10,245.36 L512.30,245.37 L512.50,245.38 L512.70,245.39 L512.90,245.40" stroke="#000" stroke-width="2.0" fill="none" />
<rect x="382.20" y="162.00" width="131.00" height="95.20" fill="none" stroke="#555" stroke-width="0.9" />
<line x1="382.20" y1="249.60" x2="384.20" y2="249.60" stroke="#555" stroke-width="0.9" />
<text x="379.90" y="252.20" font-family="'Liberation Sans', Arial, sans-serif" font-size="7.1" font-weight="bold" text-anchor="end" fill="#1a1a1a" >0.0</text>
<line x1="382.20" y1="233.80" x2="384.20" y2="233.80" stroke="#555" stroke-width="0.9" />
<text x="379.90" y="236.40" font-family="'Liberation Sans', Arial, sans-serif" font-size="7.1" font-weight="bold" text-anchor="end" fill="#1a1a1a" >0.2</text>
<line x1="382.20" y1="218.00" x2="384.20" y2="218.00" stroke="#555" stroke-width="0.9" />
<text x="379.90" y="220.60" font-family="'Liberation Sans', Arial, sans-serif" font-size="7.1" font-weight="bold" text-anchor="end" fill="#1a1a1a" >0.4</text>
<line x1="382.20" y1="202.20" x2="384.20" y2="202.20" stroke="#555" stroke-width="0.9" />
<text x="379.90" y="204.80" font-family="'Liberation Sans', Arial, sans-serif" font-size="7.1" font-weight="bold" text-anchor="end" fill="#1a1a1a" >0.6</text>
<line x1="382.20" y1="186.40" x2="384.20" y2="186.40" stroke="#555" stroke-width="0.9" />
<text x="379.90" y="189.00" font-family="'Liberation Sans', Arial, sans-serif" font-size="7.1" font-weight="bold" text-anchor="end" fill="#1a1a1a" >0.8</text>
<line x1="382.20" y1="170.60" x2="384.20" y2="170.60" stroke="#555" stroke-width="0.9" />
<text x="379.90" y="173.20" font-family="'Liberation Sans', Arial, sans-serif" font-size="7.1" font-weight="bold" text-anchor="end" fill="#1a1a1a" >1.0</text>
<line x1="382.20" y1="257.20" x2="382.20" y2="255.20" stroke="#555" stroke-width="0.9" />
<text x="382.20" y="266.20" font-family="'Liberation Sans', Arial, sans-serif" font-size="7.3" font-weight="bold" text-anchor="middle" fill="#1a1a1a" >930</text>
<line x1="425.90" y1="257.20" x2="425.90" y2="255.20" stroke="#555" stroke-width="0.9" />
<text x="425.90" y="266.20" font-family="'Liberation Sans', Arial, sans-serif" font-size="7.3" font-weight="bold" text-anchor="middle" fill="#1a1a1a" >935</text>
<line x1="469.60" y1="257.20" x2="469.60" y2="255.20" stroke="#555" stroke-width="0.9" />
<text x="469.60" y="266.20" font-family="'Liberation Sans', Arial, sans-serif" font-size="7.3" font-weight="bold" text-anchor="middle" fill="#1a1a1a" >940</text>
<line x1="513.30" y1="257.20" x2="513.30" y2="255.20" stroke="#555" stroke-width="0.9" />
<text x="513.30" y="266.20" font-family="'Liberation Sans', Arial, sans-serif" font-size="7.3" font-weight="bold" text-anchor="middle" fill="#1a1a1a" >945</text>
<line x1="404.05" y1="257.20" x2="404.05" y2="256.00" stroke="#555" stroke-width="0.8" />
<line x1="447.75" y1="257.20" x2="447.75" y2="256.00" stroke="#555" stroke-width="0.8" />
<line x1="491.45" y1="257.20" x2="491.45" y2="256.00" stroke="#555" stroke-width="0.8" />
<text x="448.20" y="275.00" font-family="'Liberation Sans', Arial, sans-serif" font-size="7.45" font-weight="bold" text-anchor="middle" fill="#1a1a1a" >Time (ms)</text>
<text x="359.80" y="209.30" font-family="'Liberation Sans', Arial, sans-serif" font-size="7.1" font-weight="bold" text-anchor="middle" fill="#1a1a1a" transform="rotate(-90 359.8 209.3)">Intensity (a.u.)</text>
<text x="460.50" y="208.40" font-family="'Liberation Sans', Arial, sans-serif" font-size="7.6" font-weight="bold" text-anchor="start" fill="#1a1a1a" >Tr = 0.08 ms</text>
<text x="460.50" y="218.10" font-family="'Liberation Sans', Arial, sans-serif" font-size="7.6" font-weight="bold" text-anchor="start" fill="#1a1a1a" >Td = 5.6 ms</text>
<defs>
<linearGradient id="tanG" x1="0" y1="0" x2="1" y2="1">
 <stop offset="0" stop-color="#d6b977"/><stop offset="1" stop-color="#d0b171"/>
</linearGradient>
<linearGradient id="thumbG" x1="0" y1="0" x2="1" y2="1">
 <stop offset="0" stop-color="#88b2d2"/><stop offset="0.55" stop-color="#7299bc"/><stop offset="1" stop-color="#5f86a8"/>
</linearGradient>
<linearGradient id="fingG" x1="0" y1="0" x2="1" y2="0">
 <stop offset="0" stop-color="#7198ba"/><stop offset="0.45" stop-color="#8cb4d2"/><stop offset="1" stop-color="#82aacb"/>
</linearGradient>
<linearGradient id="lowG" x1="0" y1="0" x2="0" y2="1">
 <stop offset="0" stop-color="#7aa2c4"/><stop offset="1" stop-color="#88b0d0"/>
</linearGradient>
<linearGradient id="rulerG" x1="0" y1="0" x2="0" y2="1">
 <stop offset="0" stop-color="#80807e"/><stop offset="1" stop-color="#6e6e6c"/>
</linearGradient>
<clipPath id="clipf"><path d="M107.8,301.2 L224.8,301.2 L224.8,419.8 L86.5,419.8 L86.5,322.9 L107.8,322.9 Z"/></clipPath>
</defs>
<path d="M107.8,301.2 L224.8,301.2 L224.8,419.8 L86.5,419.8 L86.5,322.9 L107.8,322.9 Z" fill="url(#tanG)"/>
<g clip-path="url(#clipf)">
<path d="M141,362 C142,345 153,332 167,330.8 C180,330 189,337 192,358 L188,360 C186,342 179,335 168,335.5 C156,336 148,346 146,362 Z" fill="#ece4d4" opacity="0.22"/>
<path d="M141,362 C142,345 153,332 167,330.8 C180,330 189,337 192,358" fill="none" stroke="#f4f0e8" stroke-width="0.8" opacity="0.5"/>
<path d="M146,362 C148,346 156,336 168,335.5 C179,335 186,342 188,360" fill="none" stroke="#b8a888" stroke-width="0.6" opacity="0.45"/>
<path d="M165,331.5 L177,330.8 L178.5,337 L167,338.2 Z" fill="#d4c9b6" opacity="0.75"/>
<path d="M178,331.5 L184,333 L185,339 L179,337.5 Z" fill="#cfc3ac" opacity="0.6"/>
<path d="M125.5,420 L125.5,398 C140,394 160,392 172,388 C180,392 186,398 190,404 L190,420 Z" fill="url(#lowG)"/>
<path d="M125.5,372 C125,361 130,353.5 138.5,352.4 C146,351.6 152,354 157,359.5 C164,367 171,380 177,394 C178,398 172,401 165,401.5 C150,403 137,403 128.5,403.5 C126.3,394 125.6,382 125.5,372 Z" fill="url(#thumbG)"/>
<path d="M144,357 C151,360 157,367 160,376 C157,385 149,388 142,385 C145,377 146,366 144,357 Z" fill="#5a7e9e" opacity="0.3"/>
<path d="M129,362 C132,356 137,354.5 142,355.5 C140,363 136,370 130,375 Z" fill="#a2c2da" opacity="0.3"/>
<path d="M128.5,403.5 C140,400 160,397.5 177,395" fill="none" stroke="#4e6e8a" stroke-width="1.2" opacity="0.6"/>
<path d="M184,420 C186,405 187.6,388 187.8,371 C188,359 194,348.2 204,347.0 C213,346.2 220.5,350 224.8,357 L224.8,420 Z" fill="url(#fingG)"/>
<path d="M176,396 C182,400 186,404 189.2,410 L189.2,420 L184,420 C182,410 180,403 176,399 Z" fill="#5a7c98" opacity="0.7"/>
</g>
<rect x="86.50" y="378.80" width="37.80" height="18.20" fill="#e0dfdd" stroke="none" stroke-width="1" />
<rect x="86.50" y="378.80" width="37.80" height="3.00" fill="#ecebe8" stroke="none" stroke-width="1" />
<rect x="86.50" y="397.00" width="37.80" height="22.80" fill="url(#rulerG)" stroke="none" stroke-width="1" />
<rect x="99.60" y="386.40" width="1.0" height="1.2" fill="#5a5a62"/>
<rect x="101.20" y="386.40" width="1.0" height="1.2" fill="#5a5a62"/>
<rect x="102.80" y="386.40" width="1.0" height="1.2" fill="#5a5a62"/>
<rect x="104.40" y="386.40" width="1.0" height="1.2" fill="#5a5a62"/>
<rect x="106.00" y="386.40" width="1.0" height="1.2" fill="#5a5a62"/>
<rect x="107.60" y="386.40" width="1.0" height="1.2" fill="#5a5a62"/>
<rect x="109.20" y="386.40" width="1.0" height="1.2" fill="#5a5a62"/>
<rect x="110.80" y="386.40" width="1.0" height="1.2" fill="#5a5a62"/>
<rect x="99.60" y="388.90" width="1.0" height="1.2" fill="#5a5a62"/>
<rect x="101.20" y="388.90" width="1.0" height="1.2" fill="#5a5a62"/>
<rect x="102.80" y="388.90" width="1.0" height="1.2" fill="#5a5a62"/>
<rect x="104.40" y="388.90" width="1.0" height="1.2" fill="#5a5a62"/>
<rect x="106.00" y="388.90" width="1.0" height="1.2" fill="#5a5a62"/>
<rect x="107.60" y="388.90" width="1.0" height="1.2" fill="#5a5a62"/>
<rect x="109.20" y="388.90" width="1.0" height="1.2" fill="#5a5a62"/>
<rect x="110.80" y="388.90" width="1.0" height="1.2" fill="#5a5a62"/>
<rect x="99.60" y="391.40" width="1.0" height="1.2" fill="#5a5a62"/>
<rect x="101.20" y="391.40" width="1.0" height="1.2" fill="#5a5a62"/>
<rect x="102.80" y="391.40" width="1.0" height="1.2" fill="#5a5a62"/>
<rect x="104.40" y="391.40" width="1.0" height="1.2" fill="#5a5a62"/>
<rect x="106.00" y="391.40" width="1.0" height="1.2" fill="#5a5a62"/>
<rect x="107.60" y="391.40" width="1.0" height="1.2" fill="#5a5a62"/>
<rect x="109.20" y="391.40" width="1.0" height="1.2" fill="#5a5a62"/>
<rect x="110.80" y="391.40" width="1.0" height="1.2" fill="#5a5a62"/>
<rect x="99.60" y="393.90" width="1.0" height="1.2" fill="#5a5a62"/>
<rect x="101.20" y="393.90" width="1.0" height="1.2" fill="#5a5a62"/>
<rect x="102.80" y="393.90" width="1.0" height="1.2" fill="#5a5a62"/>
<rect x="104.40" y="393.90" width="1.0" height="1.2" fill="#5a5a62"/>
<rect x="106.00" y="393.90" width="1.0" height="1.2" fill="#5a5a62"/>
<rect x="107.60" y="393.90" width="1.0" height="1.2" fill="#5a5a62"/>
<rect x="109.20" y="393.90" width="1.0" height="1.2" fill="#5a5a62"/>
<rect x="110.80" y="393.90" width="1.0" height="1.2" fill="#5a5a62"/>
<line x1="100.80" y1="402.50" x2="100.80" y2="408.50" stroke="#2a2a2a" stroke-width="0.6" />
<line x1="114.60" y1="402.50" x2="114.60" y2="408.50" stroke="#2a2a2a" stroke-width="0.6" />
<line x1="87.70" y1="405.60" x2="93.50" y2="405.60" stroke="#333" stroke-width="0.6" />
<text x="100.80" y="418.60" font-family="'Liberation Sans', Arial, sans-serif" font-size="9.8" font-weight="bold" text-anchor="middle" fill="#111" >1</text>
<text x="114.60" y="418.60" font-family="'Liberation Sans', Arial, sans-serif" font-size="9.8" font-weight="bold" text-anchor="middle" fill="#111" >2</text>
<text x="90.40" y="314.60" font-family="'Liberation Sans', Arial, sans-serif" font-size="12.2" font-weight="bold" text-anchor="start" fill="#111" >f</text>
<text x="162.60" y="319.00" font-family="'Liberation Sans', Arial, sans-serif" font-size="9.8" font-weight="normal" text-anchor="start" fill="#111" stroke="#111" stroke-width="0.25">SNO film</text>
<text x="200.90" y="337.50" font-family="'Liberation Sans', Arial, sans-serif" font-size="9.7" font-weight="normal" text-anchor="start" fill="#111" stroke="#111" stroke-width="0.25">PET</text>
<line x1="169.50" y1="332.20" x2="177.00" y2="322.40" stroke="#111" stroke-width="0.9" />
<circle cx="169.6" cy="332.2" r="1.1" fill="#111"/>
<line x1="184.50" y1="342.40" x2="197.00" y2="335.60" stroke="#111" stroke-width="0.9" />
<circle cx="184.5" cy="342.4" r="1.1" fill="#111"/>
<text x="251.60" y="314.40" font-family="'Liberation Sans', Arial, sans-serif" font-size="12.6" font-weight="bold" text-anchor="start" fill="#000" >g</text>
<path d="M299.70,360.40 L301.50,360.40 L301.75,327.29 L302.00,302.40 L302.40,300.70 L303.00,300.20 L304.50,300.20 L305.20,300.80 L305.70,302.60 L305.90,311.53 L306.10,319.16 L306.30,325.68 L306.50,331.25 L306.70,336.02 L306.90,340.09 L307.10,343.56 L307.30,346.54 L307.50,349.08 L307.70,351.25 L307.90,353.10 L308.10,354.69 L308.30,356.04 L308.50,357.20 L308.90,357.20 L309.15,325.85 L309.40,302.40 L309.80,300.70 L310.40,300.20 L311.90,300.20 L312.60,300.80 L313.10,302.60 L313.30,311.53 L313.50,319.16 L313.70,325.68 L313.90,331.25 L314.10,336.02 L314.30,340.09 L314.50,343.56 L314.70,346.54 L314.90,349.08 L315.10,351.25 L315.30,353.10 L315.50,354.69 L315.70,356.04 L315.90,357.20 L316.30,357.20 L316.55,325.85 L316.80,302.40 L317.20,300.70 L317.80,300.20 L319.30,300.20 L320.00,300.80 L320.50,302.60 L320.70,311.53 L320.90,319.16 L321.10,325.68 L321.30,331.25 L321.50,336.02 L321.70,340.09 L321.90,343.56 L322.10,346.54 L322.30,349.08 L322.50,351.25 L322.70,353.10 L322.90,354.69 L323.10,356.04 L323.30,357.20 L323.80,358.20 L323.90,361.20 L327.20,361.20" stroke="#a286be" stroke-width="1.3" fill="none" stroke-linejoin="round"/>
<path d="M327.20,361.20 L327.45,328.97 L327.70,304.80 L328.10,303.10 L328.70,302.60 L330.20,302.60 L330.90,303.20 L331.40,305.00 L331.60,313.73 L331.80,321.20 L332.00,327.57 L332.20,333.02 L332.40,337.68 L332.60,341.66 L332.80,345.06 L333.00,347.97 L333.20,350.46 L333.40,352.58 L333.60,354.39 L333.80,355.94 L334.00,357.27 L334.20,358.40 L334.60,358.40 L334.85,327.71 L335.10,304.80 L335.50,303.10 L336.10,302.60 L337.60,302.60 L338.30,303.20 L338.80,305.00 L339.00,313.73 L339.20,321.20 L339.40,327.57 L339.60,333.02 L339.80,337.68 L340.00,341.66 L340.20,345.06 L340.40,347.97 L340.60,350.46 L340.80,352.58 L341.00,354.39 L341.20,355.94 L341.40,357.27 L341.60,358.40 L342.00,358.40 L342.25,327.71 L342.50,304.80 L342.90,303.10 L343.50,302.60 L345.00,302.60 L345.70,303.20 L346.20,305.00 L346.40,313.73 L346.60,321.20 L346.80,327.57 L347.00,333.02 L347.20,337.68 L347.40,341.66 L347.60,345.06 L347.80,347.97 L348.00,350.46 L348.20,352.58 L348.40,354.39 L348.60,355.94 L348.80,357.27 L349.00,358.40 L349.50,359.40 L349.60,368.60 L352.20,368.60" stroke="#7e84c0" stroke-width="1.3" fill="none" stroke-linejoin="round"/>
<path d="M352.20,368.60 L352.45,331.09 L352.70,302.60 L353.10,300.90 L353.70,300.40 L355.20,300.40 L355.90,301.00 L356.40,302.80 L356.60,312.55 L356.80,320.88 L357.00,327.99 L357.20,334.08 L357.40,339.28 L357.60,343.72 L357.80,347.52 L358.00,350.76 L358.20,353.53 L358.40,355.90 L358.60,357.93 L358.80,359.66 L359.00,361.14 L359.20,362.40 L359.60,362.40 L359.85,328.30 L360.10,302.60 L360.50,300.90 L361.10,300.40 L362.60,300.40 L363.30,301.00 L363.80,302.80 L364.00,312.55 L364.20,320.88 L364.40,327.99 L364.60,334.08 L364.80,339.28 L365.00,343.72 L365.20,347.52 L365.40,350.76 L365.60,353.53 L365.80,355.90 L366.00,357.93 L366.20,359.66 L366.40,361.14 L366.60,362.40 L367.00,362.40 L367.25,328.30 L367.50,302.60 L367.90,300.90 L368.50,300.40 L370.00,300.40 L370.70,301.00 L371.20,302.80 L371.40,312.55 L371.60,320.88 L371.80,327.99 L372.00,334.08 L372.20,339.28 L372.40,343.72 L372.60,347.52 L372.80,350.76 L373.00,353.53 L373.20,355.90 L373.40,357.93 L373.60,359.66 L373.80,361.14 L374.00,362.40 L374.50,363.40 L374.60,374.80 L377.40,374.80" stroke="#7496ca" stroke-width="1.3" fill="none" stroke-linejoin="round"/>
<path d="M377.40,374.80 L377.65,335.86 L377.90,306.20 L378.30,304.50 L378.90,304.00 L380.40,304.00 L381.10,304.60 L381.60,306.40 L381.80,316.80 L382.00,325.69 L382.20,333.29 L382.40,339.78 L382.60,345.32 L382.80,350.07 L383.00,354.12 L383.20,357.58 L383.40,360.54 L383.60,363.07 L383.80,365.23 L384.00,367.07 L384.20,368.65 L384.40,370.00 L384.80,370.00 L385.05,333.70 L385.30,306.20 L385.70,304.50 L386.30,304.00 L387.80,304.00 L388.50,304.60 L389.00,306.40 L389.20,316.80 L389.40,325.69 L389.60,333.29 L389.80,339.78 L390.00,345.32 L390.20,350.07 L390.40,354.12 L390.60,357.58 L390.80,360.54 L391.00,363.07 L391.20,365.23 L391.40,367.07 L391.60,368.65 L391.80,370.00 L392.20,370.00 L392.45,333.70 L392.70,306.20 L393.10,304.50 L393.70,304.00 L395.20,304.00 L395.90,304.60 L396.40,306.40 L396.60,316.80 L396.80,325.69 L397.00,333.29 L397.20,339.78 L397.40,345.32 L397.60,350.07 L397.80,354.12 L398.00,357.58 L398.20,360.54 L398.40,363.07 L398.60,365.23 L398.80,367.07 L399.00,368.65 L399.20,370.00 L399.70,371.00 L399.80,383.00 L401.90,383.00" stroke="#88b2d2" stroke-width="1.3" fill="none" stroke-linejoin="round"/>
<path d="M401.90,383.00 L402.15,339.94 L402.40,306.90 L402.80,305.20 L403.40,304.70 L404.90,304.70 L405.60,305.30 L406.10,307.10 L406.30,318.61 L406.50,328.45 L406.70,336.86 L406.90,344.05 L407.10,350.19 L407.30,355.43 L407.50,359.92 L407.70,363.75 L407.90,367.03 L408.10,369.82 L408.30,372.22 L408.50,374.26 L408.70,376.01 L408.90,377.50 L409.30,377.50 L409.55,337.46 L409.80,306.90 L410.20,305.20 L410.80,304.70 L412.30,304.70 L413.00,305.30 L413.50,307.10 L413.70,318.61 L413.90,328.45 L414.10,336.86 L414.30,344.05 L414.50,350.19 L414.70,355.43 L414.90,359.92 L415.10,363.75 L415.30,367.03 L415.50,369.82 L415.70,372.22 L415.90,374.26 L416.10,376.01 L416.30,377.50 L416.70,377.50 L416.95,337.46 L417.20,306.90 L417.60,305.20 L418.20,304.70 L419.70,304.70 L420.40,305.30 L420.90,307.10 L421.10,318.61 L421.30,328.45 L421.50,336.86 L421.70,344.05 L421.90,350.19 L422.10,355.43 L422.30,359.92 L422.50,363.75 L422.70,367.03 L422.90,369.82 L423.10,372.22 L423.30,374.26 L423.50,376.01 L423.70,377.50 L424.20,378.50 L424.30,387.00 L426.70,387.00" stroke="#92d0c0" stroke-width="1.3" fill="none" stroke-linejoin="round"/>
<path d="M426.70,387.00 L426.95,360.05 L427.20,340.20 L427.60,338.50 L428.20,338.00 L429.70,338.00 L430.40,338.60 L430.90,340.40 L431.10,347.61 L431.30,353.78 L431.50,359.04 L431.70,363.54 L431.90,367.39 L432.10,370.68 L432.30,373.49 L432.50,375.89 L432.70,377.94 L432.90,379.69 L433.10,381.19 L433.30,382.47 L433.50,383.56 L433.70,384.50 L434.10,384.50 L434.35,358.93 L434.60,340.20 L435.00,338.50 L435.60,338.00 L437.10,338.00 L437.80,338.60 L438.30,340.40 L438.50,347.61 L438.70,353.78 L438.90,359.04 L439.10,363.54 L439.30,367.39 L439.50,370.68 L439.70,373.49 L439.90,375.89 L440.10,377.94 L440.30,379.69 L440.50,381.19 L440.70,382.47 L440.90,383.56 L441.10,384.50 L441.50,384.50 L441.75,358.93 L442.00,340.20 L442.40,338.50 L443.00,338.00 L444.50,338.00 L445.20,338.60 L445.70,340.40 L445.90,347.61 L446.10,353.78 L446.30,359.04 L446.50,363.54 L446.70,367.39 L446.90,370.68 L447.10,373.49 L447.30,375.89 L447.50,377.94 L447.70,379.69 L447.90,381.19 L448.10,382.47 L448.30,383.56 L448.50,384.50 L448.60,378.50" stroke="#b6d68a" stroke-width="1.3" fill="none" stroke-linejoin="round"/>
<rect x="299.20" y="293.70" width="149.80" height="111.80" fill="none" stroke="#666" stroke-width="0.9" />
<line x1="297.20" y1="302.40" x2="299.20" y2="302.40" stroke="#444" stroke-width="0.9" />
<line x1="298.10" y1="320.12" x2="299.20" y2="320.12" stroke="#666" stroke-width="0.6" />
<line x1="298.10" y1="315.65" x2="299.20" y2="315.65" stroke="#666" stroke-width="0.6" />
<line x1="298.10" y1="312.49" x2="299.20" y2="312.49" stroke="#666" stroke-width="0.6" />
<line x1="298.10" y1="310.03" x2="299.20" y2="310.03" stroke="#666" stroke-width="0.6" />
<line x1="298.10" y1="308.02" x2="299.20" y2="308.02" stroke="#666" stroke-width="0.6" />
<line x1="298.10" y1="306.33" x2="299.20" y2="306.33" stroke="#666" stroke-width="0.6" />
<line x1="298.10" y1="304.86" x2="299.20" y2="304.86" stroke="#666" stroke-width="0.6" />
<line x1="298.10" y1="303.56" x2="299.20" y2="303.56" stroke="#666" stroke-width="0.6" />
<text x="288.30" y="305.40" font-family="'Liberation Sans', Arial, sans-serif" font-size="8.2" font-weight="normal" text-anchor="end" fill="#1a1a1a" stroke="#1a1a1a" stroke-width="0.25">10</text>
<text x="290.60" y="300.80" font-family="'Liberation Sans', Arial, sans-serif" font-size="4.6" font-weight="normal" text-anchor="start" fill="#1a1a1a" stroke="#1a1a1a" stroke-width="0.15">-6</text>
<line x1="297.20" y1="327.75" x2="299.20" y2="327.75" stroke="#444" stroke-width="0.9" />
<line x1="298.10" y1="345.47" x2="299.20" y2="345.47" stroke="#666" stroke-width="0.6" />
<line x1="298.10" y1="341.00" x2="299.20" y2="341.00" stroke="#666" stroke-width="0.6" />
<line x1="298.10" y1="337.84" x2="299.20" y2="337.84" stroke="#666" stroke-width="0.6" />
<line x1="298.10" y1="335.38" x2="299.20" y2="335.38" stroke="#666" stroke-width="0.6" />
<line x1="298.10" y1="333.37" x2="299.20" y2="333.37" stroke="#666" stroke-width="0.6" />
<line x1="298.10" y1="331.68" x2="299.20" y2="331.68" stroke="#666" stroke-width="0.6" />
<line x1="298.10" y1="330.21" x2="299.20" y2="330.21" stroke="#666" stroke-width="0.6" />
<line x1="298.10" y1="328.91" x2="299.20" y2="328.91" stroke="#666" stroke-width="0.6" />
<text x="288.30" y="330.75" font-family="'Liberation Sans', Arial, sans-serif" font-size="8.2" font-weight="normal" text-anchor="end" fill="#1a1a1a" stroke="#1a1a1a" stroke-width="0.25">10</text>
<text x="290.60" y="326.15" font-family="'Liberation Sans', Arial, sans-serif" font-size="4.6" font-weight="normal" text-anchor="start" fill="#1a1a1a" stroke="#1a1a1a" stroke-width="0.15">-7</text>
<line x1="297.20" y1="353.10" x2="299.20" y2="353.10" stroke="#444" stroke-width="0.9" />
<line x1="298.10" y1="370.82" x2="299.20" y2="370.82" stroke="#666" stroke-width="0.6" />
<line x1="298.10" y1="366.35" x2="299.20" y2="366.35" stroke="#666" stroke-width="0.6" />
<line x1="298.10" y1="363.19" x2="299.20" y2="363.19" stroke="#666" stroke-width="0.6" />
<line x1="298.10" y1="360.73" x2="299.20" y2="360.73" stroke="#666" stroke-width="0.6" />
<line x1="298.10" y1="358.72" x2="299.20" y2="358.72" stroke="#666" stroke-width="0.6" />
<line x1="298.10" y1="357.03" x2="299.20" y2="357.03" stroke="#666" stroke-width="0.6" />
<line x1="298.10" y1="355.56" x2="299.20" y2="355.56" stroke="#666" stroke-width="0.6" />
<line x1="298.10" y1="354.26" x2="299.20" y2="354.26" stroke="#666" stroke-width="0.6" />
<text x="288.30" y="356.10" font-family="'Liberation Sans', Arial, sans-serif" font-size="8.2" font-weight="normal" text-anchor="end" fill="#1a1a1a" stroke="#1a1a1a" stroke-width="0.25">10</text>
<text x="290.60" y="351.50" font-family="'Liberation Sans', Arial, sans-serif" font-size="4.6" font-weight="normal" text-anchor="start" fill="#1a1a1a" stroke="#1a1a1a" stroke-width="0.15">-8</text>
<line x1="297.20" y1="378.45" x2="299.20" y2="378.45" stroke="#444" stroke-width="0.9" />
<line x1="298.10" y1="396.17" x2="299.20" y2="396.17" stroke="#666" stroke-width="0.6" />
<line x1="298.10" y1="391.70" x2="299.20" y2="391.70" stroke="#666" stroke-width="0.6" />
<line x1="298.10" y1="388.54" x2="299.20" y2="388.54" stroke="#666" stroke-width="0.6" />
<line x1="298.10" y1="386.08" x2="299.20" y2="386.08" stroke="#666" stroke-width="0.6" />
<line x1="298.10" y1="384.07" x2="299.20" y2="384.07" stroke="#666" stroke-width="0.6" />
<line x1="298.10" y1="382.38" x2="299.20" y2="382.38" stroke="#666" stroke-width="0.6" />
<line x1="298.10" y1="380.91" x2="299.20" y2="380.91" stroke="#666" stroke-width="0.6" />
<line x1="298.10" y1="379.61" x2="299.20" y2="379.61" stroke="#666" stroke-width="0.6" />
<text x="288.30" y="381.45" font-family="'Liberation Sans', Arial, sans-serif" font-size="8.2" font-weight="normal" text-anchor="end" fill="#1a1a1a" stroke="#1a1a1a" stroke-width="0.25">10</text>
<text x="290.60" y="376.85" font-family="'Liberation Sans', Arial, sans-serif" font-size="4.6" font-weight="normal" text-anchor="start" fill="#1a1a1a" stroke="#1a1a1a" stroke-width="0.15">-9</text>
<line x1="297.20" y1="403.80" x2="299.20" y2="403.80" stroke="#444" stroke-width="0.9" />
<text x="288.30" y="406.80" font-family="'Liberation Sans', Arial, sans-serif" font-size="8.2" font-weight="normal" text-anchor="end" fill="#1a1a1a" stroke="#1a1a1a" stroke-width="0.25">10</text>
<text x="290.60" y="402.20" font-family="'Liberation Sans', Arial, sans-serif" font-size="4.6" font-weight="normal" text-anchor="start" fill="#1a1a1a" stroke="#1a1a1a" stroke-width="0.15">-10</text>
<line x1="299.20" y1="405.50" x2="299.20" y2="407.50" stroke="#444" stroke-width="0.9" />
<line x1="311.67" y1="405.50" x2="311.67" y2="407.10" stroke="#555" stroke-width="0.8" />
<text x="299.20" y="418.00" font-family="'Liberation Sans', Arial, sans-serif" font-size="9.4" font-weight="normal" text-anchor="middle" fill="#1a1a1a" stroke="#1a1a1a" stroke-width="0.2">0</text>
<line x1="324.13" y1="405.50" x2="324.13" y2="407.50" stroke="#444" stroke-width="0.9" />
<line x1="336.60" y1="405.50" x2="336.60" y2="407.10" stroke="#555" stroke-width="0.8" />
<text x="324.13" y="418.00" font-family="'Liberation Sans', Arial, sans-serif" font-size="9.4" font-weight="normal" text-anchor="middle" fill="#1a1a1a" stroke="#1a1a1a" stroke-width="0.2">200</text>
<line x1="349.07" y1="405.50" x2="349.07" y2="407.50" stroke="#444" stroke-width="0.9" />
<line x1="361.53" y1="405.50" x2="361.53" y2="407.10" stroke="#555" stroke-width="0.8" />
<text x="349.07" y="418.00" font-family="'Liberation Sans', Arial, sans-serif" font-size="9.4" font-weight="normal" text-anchor="middle" fill="#1a1a1a" stroke="#1a1a1a" stroke-width="0.2">400</text>
<line x1="374.00" y1="405.50" x2="374.00" y2="407.50" stroke="#444" stroke-width="0.9" />
<line x1="386.47" y1="405.50" x2="386.47" y2="407.10" stroke="#555" stroke-width="0.8" />
<text x="374.00" y="418.00" font-family="'Liberation Sans', Arial, sans-serif" font-size="9.4" font-weight="normal" text-anchor="middle" fill="#1a1a1a" stroke="#1a1a1a" stroke-width="0.2">600</text>
<line x1="398.94" y1="405.50" x2="398.94" y2="407.50" stroke="#444" stroke-width="0.9" />
<line x1="411.40" y1="405.50" x2="411.40" y2="407.10" stroke="#555" stroke-width="0.8" />
<text x="398.94" y="418.00" font-family="'Liberation Sans', Arial, sans-serif" font-size="9.4" font-weight="normal" text-anchor="middle" fill="#1a1a1a" stroke="#1a1a1a" stroke-width="0.2">800</text>
<line x1="423.87" y1="405.50" x2="423.87" y2="407.50" stroke="#444" stroke-width="0.9" />
<line x1="436.34" y1="405.50" x2="436.34" y2="407.10" stroke="#555" stroke-width="0.8" />
<text x="423.87" y="418.00" font-family="'Liberation Sans', Arial, sans-serif" font-size="9.4" font-weight="normal" text-anchor="middle" fill="#1a1a1a" stroke="#1a1a1a" stroke-width="0.2">1000</text>
<line x1="448.80" y1="405.50" x2="448.80" y2="407.50" stroke="#444" stroke-width="0.9" />
<text x="448.80" y="418.00" font-family="'Liberation Sans', Arial, sans-serif" font-size="9.4" font-weight="normal" text-anchor="middle" fill="#1a1a1a" stroke="#1a1a1a" stroke-width="0.2">1200</text>
<text x="375.70" y="430.20" font-family="'Liberation Sans', Arial, sans-serif" font-size="10" font-weight="normal" text-anchor="middle" fill="#1a1a1a" stroke="#1a1a1a" stroke-width="0.2">Time (s)</text>
<text x="272.40" y="350.30" font-family="'Liberation Sans', Arial, sans-serif" font-size="10" font-weight="normal" text-anchor="middle" fill="#1a1a1a" stroke="#1a1a1a" stroke-width="0.2" transform="rotate(-90 272.4 350.3)">Current (A)</text>
<text x="315.50" y="393.60" font-family="'Liberation Sans', Arial, sans-serif" font-size="7.6" font-weight="normal" text-anchor="middle" fill="#222" stroke="#222" stroke-width="0.15">0<tspan font-size="4.5" dy="-2.6">o</tspan></text>
<text x="339.20" y="393.60" font-family="'Liberation Sans', Arial, sans-serif" font-size="7.6" font-weight="normal" text-anchor="middle" fill="#222" stroke="#222" stroke-width="0.15">35<tspan font-size="4.5" dy="-2.6">o</tspan></text>
<text x="363.60" y="393.60" font-family="'Liberation Sans', Arial, sans-serif" font-size="7.6" font-weight="normal" text-anchor="middle" fill="#222" stroke="#222" stroke-width="0.15">50<tspan font-size="4.5" dy="-2.6">o</tspan></text>
<text x="388.00" y="393.60" font-family="'Liberation Sans', Arial, sans-serif" font-size="7.6" font-weight="normal" text-anchor="middle" fill="#222" stroke="#222" stroke-width="0.15">60<tspan font-size="4.5" dy="-2.6">o</tspan></text>
<text x="412.00" y="393.60" font-family="'Liberation Sans', Arial, sans-serif" font-size="7.6" font-weight="normal" text-anchor="middle" fill="#222" stroke="#222" stroke-width="0.15">80<tspan font-size="4.5" dy="-2.6">o</tspan></text>
<text x="436.60" y="393.60" font-family="'Liberation Sans', Arial, sans-serif" font-size="7.6" font-weight="normal" text-anchor="middle" fill="#222" stroke="#222" stroke-width="0.15">90<tspan font-size="4.5" dy="-2.6">o</tspan></text>
<text x="375.10" y="401.80" font-family="'Liberation Sans', Arial, sans-serif" font-size="7.6" font-weight="normal" text-anchor="middle" fill="#222" stroke="#222" stroke-width="0.15">Bending angle</text>
</svg>
</body></html>
